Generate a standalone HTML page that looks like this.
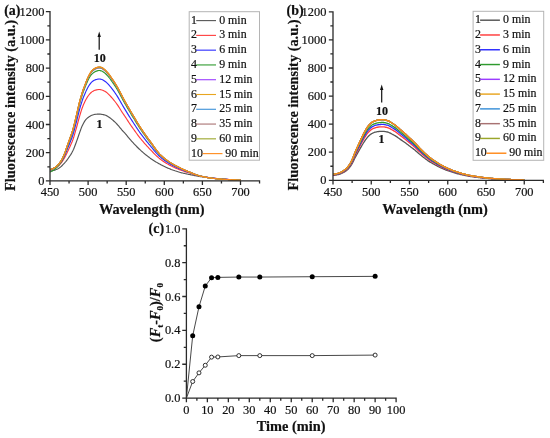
<!DOCTYPE html>
<html><head><meta charset="utf-8"><style>
html,body{margin:0;padding:0;background:#fff;}
body{width:550px;height:438px;overflow:hidden;}
svg{display:block;will-change:transform;}
text{font-family:"Liberation Serif",serif;fill:#111;stroke:#111;stroke-width:0.2px;}
.t{font-size:12.4px;}
.l{font-size:11.9px;}
.b14{font-size:14.35px;font-weight:bold;}
.b13{font-size:14px;font-weight:bold;}
.b12{font-size:12px;font-weight:bold;}
</style></head><body>
<svg width="550" height="438" viewBox="0 0 550 438">
<rect width="550" height="438" fill="#fff"/>
<path d="M50.00,171.01 L50.76,170.93 L51.52,170.82 L52.29,170.68 L53.05,170.52 L53.81,170.34 L54.57,170.13 L55.33,169.88 L56.10,169.59 L56.86,169.27 L57.62,168.90 L58.38,168.50 L59.14,168.06 L59.91,167.53 L60.67,166.91 L61.43,166.23 L62.19,165.49 L62.95,164.72 L63.72,163.92 L64.48,163.11 L65.24,162.25 L66.00,161.33 L66.76,160.35 L67.53,159.33 L68.29,158.27 L69.05,157.17 L69.81,156.05 L70.57,154.88 L71.34,153.63 L72.10,152.29 L72.86,150.82 L73.62,149.17 L74.38,147.30 L75.15,145.30 L75.91,143.22 L76.67,141.13 L77.43,138.99 L78.19,136.75 L78.96,134.52 L79.72,132.38 L80.48,130.20 L81.24,128.10 L82.00,126.22 L82.77,124.64 L83.53,123.18 L84.29,121.85 L85.05,120.68 L85.81,119.71 L86.58,118.92 L87.34,118.19 L88.10,117.53 L88.86,116.93 L89.62,116.40 L90.39,115.95 L91.15,115.57 L91.91,115.25 L92.67,114.97 L93.43,114.73 L94.20,114.54 L94.96,114.40 L95.72,114.30 L96.48,114.21 L97.24,114.13 L98.01,114.08 L98.77,114.07 L99.53,114.09 L100.29,114.15 L101.05,114.24 L101.82,114.35 L102.58,114.46 L103.34,114.62 L104.10,114.82 L104.86,115.06 L105.63,115.33 L106.39,115.63 L107.15,116.00 L107.91,116.45 L108.67,116.96 L109.44,117.50 L110.20,118.08 L110.96,118.67 L111.72,119.26 L112.48,119.88 L113.25,120.53 L114.01,121.22 L114.77,121.94 L115.53,122.69 L116.29,123.45 L117.06,124.24 L117.82,125.07 L118.58,125.95 L119.34,126.87 L120.10,127.80 L120.87,128.73 L121.63,129.64 L122.39,130.51 L123.15,131.32 L123.91,132.11 L124.68,132.91 L125.44,133.77 L126.20,134.68 L126.96,135.62 L127.72,136.57 L128.49,137.52 L129.25,138.44 L130.01,139.33 L130.77,140.19 L131.53,141.04 L132.30,141.88 L133.06,142.72 L133.82,143.54 L134.58,144.36 L135.34,145.16 L136.11,145.95 L136.87,146.73 L137.63,147.49 L138.39,148.24 L139.15,148.97 L139.92,149.68 L140.68,150.38 L141.44,151.07 L142.20,151.75 L142.96,152.41 L143.73,153.07 L144.49,153.71 L145.25,154.35 L146.01,154.97 L146.77,155.57 L147.54,156.17 L148.30,156.75 L149.06,157.31 L149.82,157.87 L150.58,158.41 L151.35,158.94 L152.11,159.46 L152.87,159.97 L153.63,160.47 L154.39,160.96 L155.16,161.44 L155.92,161.92 L156.68,162.38 L157.44,162.83 L158.20,163.27 L158.97,163.70 L159.73,164.12 L160.49,164.53 L161.25,164.93 L162.01,165.32 L162.78,165.71 L163.54,166.09 L164.30,166.46 L165.06,166.83 L165.82,167.18 L166.59,167.53 L167.35,167.87 L168.11,168.19 L168.87,168.51 L169.63,168.82 L170.40,169.12 L171.16,169.42 L171.92,169.70 L172.68,169.99 L173.44,170.26 L174.21,170.53 L174.97,170.80 L175.73,171.05 L176.49,171.30 L177.25,171.54 L178.02,171.78 L178.78,172.00 L179.54,172.22 L180.30,172.43 L181.06,172.64 L181.83,172.83 L182.59,173.02 L183.35,173.20 L184.11,173.38 L184.87,173.55 L185.64,173.72 L186.40,173.89 L187.16,174.05 L187.92,174.21 L188.68,174.37 L189.45,174.53 L190.21,174.68 L190.97,174.84 L191.73,175.00 L192.49,175.15 L193.26,175.31 L194.02,175.46 L194.78,175.61 L195.54,175.75 L196.30,175.90 L197.07,176.04 L197.83,176.17 L198.59,176.31 L199.35,176.43 L200.11,176.56 L200.88,176.67 L201.64,176.79 L202.40,176.90 L203.16,177.02 L203.92,177.12 L204.69,177.23 L205.45,177.33 L206.21,177.43 L206.97,177.53 L207.73,177.63 L208.50,177.72 L209.26,177.81 L210.02,177.89 L210.78,177.98 L211.54,178.06 L212.31,178.14 L213.07,178.22 L213.83,178.30 L214.59,178.38 L215.35,178.46 L216.12,178.53 L216.88,178.61 L217.64,178.68 L218.40,178.75 L219.16,178.82 L219.93,178.88 L220.69,178.95 L221.45,179.01 L222.21,179.07 L222.97,179.13 L223.74,179.19 L224.50,179.24 L225.26,179.30 L226.02,179.35 L226.78,179.40 L227.55,179.45 L228.31,179.49 L229.07,179.54 L229.83,179.59 L230.59,179.63 L231.36,179.68 L232.12,179.72 L232.88,179.76 L233.64,179.80 L234.40,179.84 L235.17,179.88 L235.93,179.92 L236.69,179.95 L237.45,179.98 L238.21,180.01 L238.98,180.04 L239.74,180.07 L240.50,180.10" fill="none" stroke="#555555" stroke-width="1.15"/>
<path d="M50.00,169.66 L50.76,169.55 L51.52,169.38 L52.29,169.17 L53.05,168.92 L53.81,168.65 L54.57,168.34 L55.33,167.97 L56.10,167.53 L56.86,167.03 L57.62,166.48 L58.38,165.88 L59.14,165.22 L59.91,164.46 L60.67,163.59 L61.43,162.63 L62.19,161.59 L62.95,160.44 L63.72,159.20 L64.48,157.89 L65.24,156.49 L66.00,154.97 L66.76,153.38 L67.53,151.80 L68.29,150.21 L69.05,148.60 L69.81,146.96 L70.57,145.29 L71.34,143.57 L72.10,141.76 L72.86,139.78 L73.62,137.55 L74.38,135.08 L75.15,132.44 L75.91,129.72 L76.67,127.01 L77.43,124.23 L78.19,121.34 L78.96,118.49 L79.72,115.80 L80.48,113.24 L81.24,110.81 L82.00,108.53 L82.77,106.45 L83.53,104.58 L84.29,102.91 L85.05,101.32 L85.81,99.80 L86.58,98.42 L87.34,97.16 L88.10,96.02 L88.86,94.98 L89.62,94.04 L90.39,93.22 L91.15,92.47 L91.91,91.87 L92.67,91.38 L93.43,90.95 L94.20,90.58 L94.96,90.29 L95.72,90.07 L96.48,89.89 L97.24,89.73 L98.01,89.60 L98.77,89.54 L99.53,89.55 L100.29,89.64 L101.05,89.78 L101.82,89.95 L102.58,90.19 L103.34,90.52 L104.10,90.91 L104.86,91.33 L105.63,91.81 L106.39,92.33 L107.15,92.92 L107.91,93.58 L108.67,94.30 L109.44,95.08 L110.20,95.90 L110.96,96.75 L111.72,97.60 L112.48,98.47 L113.25,99.37 L114.01,100.29 L114.77,101.25 L115.53,102.25 L116.29,103.27 L117.06,104.33 L117.82,105.44 L118.58,106.60 L119.34,107.79 L120.10,109.01 L120.87,110.24 L121.63,111.46 L122.39,112.66 L123.15,113.80 L123.91,114.91 L124.68,116.02 L125.44,117.15 L126.20,118.30 L126.96,119.48 L127.72,120.65 L128.49,121.82 L129.25,122.98 L130.01,124.11 L130.77,125.21 L131.53,126.30 L132.30,127.39 L133.06,128.47 L133.82,129.54 L134.58,130.61 L135.34,131.67 L136.11,132.73 L136.87,133.78 L137.63,134.81 L138.39,135.83 L139.15,136.82 L139.92,137.79 L140.68,138.74 L141.44,139.67 L142.20,140.59 L142.96,141.49 L143.73,142.38 L144.49,143.26 L145.25,144.13 L146.01,144.98 L146.77,145.82 L147.54,146.65 L148.30,147.47 L149.06,148.28 L149.82,149.08 L150.58,149.87 L151.35,150.67 L152.11,151.46 L152.87,152.25 L153.63,153.04 L154.39,153.81 L155.16,154.57 L155.92,155.32 L156.68,156.05 L157.44,156.75 L158.20,157.43 L158.97,158.09 L159.73,158.71 L160.49,159.29 L161.25,159.86 L162.01,160.41 L162.78,160.95 L163.54,161.47 L164.30,161.98 L165.06,162.47 L165.82,162.95 L166.59,163.42 L167.35,163.87 L168.11,164.31 L168.87,164.74 L169.63,165.15 L170.40,165.56 L171.16,165.95 L171.92,166.33 L172.68,166.71 L173.44,167.07 L174.21,167.43 L174.97,167.77 L175.73,168.11 L176.49,168.44 L177.25,168.76 L178.02,169.08 L178.78,169.38 L179.54,169.68 L180.30,169.98 L181.06,170.26 L181.83,170.54 L182.59,170.81 L183.35,171.08 L184.11,171.34 L184.87,171.59 L185.64,171.84 L186.40,172.08 L187.16,172.32 L187.92,172.56 L188.68,172.80 L189.45,173.03 L190.21,173.26 L190.97,173.49 L191.73,173.72 L192.49,173.95 L193.26,174.19 L194.02,174.41 L194.78,174.64 L195.54,174.86 L196.30,175.07 L197.07,175.28 L197.83,175.48 L198.59,175.66 L199.35,175.84 L200.11,176.01 L200.88,176.17 L201.64,176.32 L202.40,176.47 L203.16,176.61 L203.92,176.75 L204.69,176.88 L205.45,177.01 L206.21,177.13 L206.97,177.25 L207.73,177.37 L208.50,177.48 L209.26,177.59 L210.02,177.69 L210.78,177.79 L211.54,177.89 L212.31,177.99 L213.07,178.08 L213.83,178.18 L214.59,178.27 L215.35,178.35 L216.12,178.44 L216.88,178.52 L217.64,178.60 L218.40,178.68 L219.16,178.75 L219.93,178.82 L220.69,178.88 L221.45,178.95 L222.21,179.01 L222.97,179.07 L223.74,179.12 L224.50,179.18 L225.26,179.23 L226.02,179.28 L226.78,179.33 L227.55,179.38 L228.31,179.42 L229.07,179.47 L229.83,179.52 L230.59,179.56 L231.36,179.61 L232.12,179.65 L232.88,179.69 L233.64,179.73 L234.40,179.77 L235.17,179.81 L235.93,179.85 L236.69,179.88 L237.45,179.92 L238.21,179.95 L238.98,179.98 L239.74,180.01 L240.50,180.04" fill="none" stroke="#ff3b3b" stroke-width="1.15"/>
<path d="M50.00,169.46 L50.76,169.33 L51.52,169.14 L52.29,168.89 L53.05,168.60 L53.81,168.28 L54.57,167.92 L55.33,167.50 L56.10,166.99 L56.86,166.40 L57.62,165.76 L58.38,165.06 L59.14,164.31 L59.91,163.45 L60.67,162.46 L61.43,161.38 L62.19,160.20 L62.95,158.87 L63.72,157.41 L64.48,155.86 L65.24,154.19 L66.00,152.36 L66.76,150.47 L67.53,148.61 L68.29,146.77 L69.05,144.92 L69.81,143.05 L70.57,141.14 L71.34,139.23 L72.10,137.22 L72.86,135.03 L73.62,132.55 L74.38,129.82 L75.15,126.93 L75.91,123.96 L76.67,121.00 L77.43,117.97 L78.19,114.83 L78.96,111.74 L79.72,108.87 L80.48,106.21 L81.24,103.71 L82.00,101.30 L82.77,99.02 L83.53,97.00 L84.29,95.20 L85.05,93.43 L85.81,91.63 L86.58,89.96 L87.34,88.43 L88.10,87.03 L88.86,85.77 L89.62,84.63 L90.39,83.60 L91.15,82.66 L91.91,81.90 L92.67,81.31 L93.43,80.78 L94.20,80.32 L94.96,79.95 L95.72,79.66 L96.48,79.43 L97.24,79.22 L98.01,79.06 L98.77,78.97 L99.53,78.98 L100.29,79.08 L101.05,79.24 L101.82,79.45 L102.58,79.74 L103.34,80.17 L104.10,80.66 L104.86,81.18 L105.63,81.77 L106.39,82.40 L107.15,83.10 L107.91,83.85 L108.67,84.67 L109.44,85.55 L110.20,86.49 L110.96,87.45 L111.72,88.43 L112.48,89.41 L113.25,90.41 L114.01,91.44 L114.77,92.49 L115.53,93.59 L116.29,94.72 L117.06,95.90 L117.82,97.13 L118.58,98.40 L119.34,99.69 L120.10,101.02 L120.87,102.38 L121.63,103.73 L122.39,105.07 L123.15,106.36 L123.91,107.61 L124.68,108.85 L125.44,110.09 L126.20,111.35 L126.96,112.60 L127.72,113.85 L128.49,115.10 L129.25,116.33 L130.01,117.55 L130.77,118.75 L131.53,119.93 L132.30,121.11 L133.06,122.29 L133.82,123.46 L134.58,124.63 L135.34,125.80 L136.11,126.97 L136.87,128.13 L137.63,129.28 L138.39,130.41 L139.15,131.51 L139.92,132.59 L140.68,133.65 L141.44,134.68 L142.20,135.70 L142.96,136.71 L143.73,137.70 L144.49,138.68 L145.25,139.65 L146.01,140.60 L146.77,141.55 L147.54,142.48 L148.30,143.41 L149.06,144.33 L149.82,145.24 L150.58,146.15 L151.35,147.07 L152.11,147.99 L152.87,148.92 L153.63,149.84 L154.39,150.76 L155.16,151.66 L155.92,152.54 L156.68,153.40 L157.44,154.23 L158.20,155.02 L158.97,155.78 L159.73,156.50 L160.49,157.16 L161.25,157.81 L162.01,158.43 L162.78,159.03 L163.54,159.62 L164.30,160.19 L165.06,160.73 L165.82,161.27 L166.59,161.78 L167.35,162.28 L168.11,162.77 L168.87,163.24 L169.63,163.70 L170.40,164.15 L171.16,164.58 L171.92,165.00 L172.68,165.42 L173.44,165.82 L174.21,166.21 L174.97,166.59 L175.73,166.96 L176.49,167.32 L177.25,167.67 L178.02,168.02 L178.78,168.36 L179.54,168.70 L180.30,169.03 L181.06,169.35 L181.83,169.66 L182.59,169.97 L183.35,170.28 L184.11,170.57 L184.87,170.86 L185.64,171.15 L186.40,171.43 L187.16,171.71 L187.92,171.98 L188.68,172.25 L189.45,172.52 L190.21,172.79 L190.97,173.05 L191.73,173.32 L192.49,173.59 L193.26,173.86 L194.02,174.12 L194.78,174.38 L195.54,174.64 L196.30,174.88 L197.07,175.12 L197.83,175.35 L198.59,175.56 L199.35,175.76 L200.11,175.95 L200.88,176.12 L201.64,176.29 L202.40,176.45 L203.16,176.60 L203.92,176.75 L204.69,176.89 L205.45,177.03 L206.21,177.17 L206.97,177.29 L207.73,177.42 L208.50,177.53 L209.26,177.65 L210.02,177.76 L210.78,177.86 L211.54,177.97 L212.31,178.07 L213.07,178.16 L213.83,178.26 L214.59,178.35 L215.35,178.44 L216.12,178.53 L216.88,178.61 L217.64,178.69 L218.40,178.76 L219.16,178.83 L219.93,178.90 L220.69,178.96 L221.45,179.02 L222.21,179.08 L222.97,179.14 L223.74,179.19 L224.50,179.24 L225.26,179.29 L226.02,179.33 L226.78,179.38 L227.55,179.42 L228.31,179.47 L229.07,179.51 L229.83,179.55 L230.59,179.60 L231.36,179.64 L232.12,179.68 L232.88,179.72 L233.64,179.76 L234.40,179.80 L235.17,179.83 L235.93,179.87 L236.69,179.90 L237.45,179.94 L238.21,179.97 L238.98,180.00 L239.74,180.03 L240.50,180.06" fill="none" stroke="#2b2bff" stroke-width="1.15"/>
<path d="M50.00,172.00 L50.76,171.69 L51.52,171.31 L52.29,170.88 L53.05,170.41 L53.81,169.91 L54.57,169.40 L55.33,168.81 L56.10,168.14 L56.86,167.38 L57.62,166.57 L58.38,165.71 L59.14,164.80 L59.91,163.77 L60.67,162.62 L61.43,161.38 L62.19,160.02 L62.95,158.49 L63.72,156.79 L64.48,154.98 L65.24,153.04 L66.00,150.91 L66.76,148.72 L67.53,146.58 L68.29,144.50 L69.05,142.42 L69.81,140.31 L70.57,138.20 L71.34,136.10 L72.10,133.91 L72.86,131.52 L73.62,128.83 L74.38,125.89 L75.15,122.78 L75.91,119.60 L76.67,116.44 L77.43,113.21 L78.19,109.86 L78.96,106.59 L79.72,103.56 L80.48,100.85 L81.24,98.31 L82.00,95.81 L82.77,93.38 L83.53,91.22 L84.29,89.33 L85.05,87.40 L85.81,85.37 L86.58,83.44 L87.34,81.66 L88.10,80.04 L88.86,78.58 L89.62,77.25 L90.39,76.05 L91.15,74.94 L91.91,74.03 L92.67,73.34 L93.43,72.73 L94.20,72.19 L94.96,71.74 L95.72,71.38 L96.48,71.11 L97.24,70.86 L98.01,70.66 L98.77,70.54 L99.53,70.54 L100.29,70.65 L101.05,70.83 L101.82,71.06 L102.58,71.41 L103.34,71.93 L104.10,72.50 L104.86,73.11 L105.63,73.78 L106.39,74.52 L107.15,75.30 L107.91,76.14 L108.67,77.03 L109.44,78.00 L110.20,79.03 L110.96,80.09 L111.72,81.17 L112.48,82.24 L113.25,83.32 L114.01,84.43 L114.77,85.56 L115.53,86.73 L116.29,87.95 L117.06,89.22 L117.82,90.54 L118.58,91.90 L119.34,93.28 L120.10,94.69 L120.87,96.14 L121.63,97.60 L122.39,99.05 L123.15,100.46 L123.91,101.83 L124.68,103.17 L125.44,104.50 L126.20,105.82 L126.96,107.13 L127.72,108.44 L128.49,109.74 L129.25,111.03 L130.01,112.31 L130.77,113.57 L131.53,114.83 L132.30,116.08 L133.06,117.33 L133.82,118.57 L134.58,119.82 L135.34,121.08 L136.11,122.33 L136.87,123.58 L137.63,124.82 L138.39,126.04 L139.15,127.24 L139.92,128.41 L140.68,129.55 L141.44,130.66 L142.20,131.77 L142.96,132.85 L143.73,133.92 L144.49,134.98 L145.25,136.03 L146.01,137.06 L146.77,138.09 L147.54,139.11 L148.30,140.13 L149.06,141.14 L149.82,142.14 L150.58,143.15 L151.35,144.17 L152.11,145.21 L152.87,146.25 L153.63,147.29 L154.39,148.32 L155.16,149.34 L155.92,150.34 L156.68,151.31 L157.44,152.25 L158.20,153.14 L158.97,153.99 L159.73,154.78 L160.49,155.52 L161.25,156.22 L162.01,156.90 L162.78,157.56 L163.54,158.19 L164.30,158.81 L165.06,159.40 L165.82,159.97 L166.59,160.53 L167.35,161.07 L168.11,161.59 L168.87,162.10 L169.63,162.59 L170.40,163.07 L171.16,163.54 L171.92,163.99 L172.68,164.43 L173.44,164.86 L174.21,165.28 L174.97,165.68 L175.73,166.08 L176.49,166.47 L177.25,166.85 L178.02,167.22 L178.78,167.59 L179.54,167.95 L180.30,168.31 L181.06,168.66 L181.83,169.01 L182.59,169.35 L183.35,169.69 L184.11,170.01 L184.87,170.34 L185.64,170.65 L186.40,170.97 L187.16,171.28 L187.92,171.58 L188.68,171.88 L189.45,172.18 L190.21,172.47 L190.97,172.77 L191.73,173.06 L192.49,173.36 L193.26,173.66 L194.02,173.96 L194.78,174.25 L195.54,174.53 L196.30,174.80 L197.07,175.07 L197.83,175.32 L198.59,175.55 L199.35,175.77 L200.11,175.97 L200.88,176.16 L201.64,176.33 L202.40,176.51 L203.16,176.67 L203.92,176.83 L204.69,176.98 L205.45,177.12 L206.21,177.26 L206.97,177.39 L207.73,177.52 L208.50,177.64 L209.26,177.76 L210.02,177.87 L210.78,177.98 L211.54,178.09 L212.31,178.19 L213.07,178.29 L213.83,178.39 L214.59,178.48 L215.35,178.57 L216.12,178.65 L216.88,178.74 L217.64,178.81 L218.40,178.89 L219.16,178.95 L219.93,179.02 L220.69,179.08 L221.45,179.13 L222.21,179.18 L222.97,179.23 L223.74,179.28 L224.50,179.33 L225.26,179.37 L226.02,179.41 L226.78,179.46 L227.55,179.50 L228.31,179.54 L229.07,179.58 L229.83,179.61 L230.59,179.65 L231.36,179.69 L232.12,179.73 L232.88,179.77 L233.64,179.80 L234.40,179.84 L235.17,179.87 L235.93,179.90 L236.69,179.94 L237.45,179.97 L238.21,180.00 L238.98,180.03 L239.74,180.06 L240.50,180.09" fill="none" stroke="#2e9a2e" stroke-width="1.15"/>
<path d="M50.00,169.49 L50.76,169.35 L51.52,169.12 L52.29,168.84 L53.05,168.50 L53.81,168.12 L54.57,167.72 L55.33,167.23 L56.10,166.64 L56.86,165.97 L57.62,165.22 L58.38,164.42 L59.14,163.56 L59.91,162.58 L60.67,161.48 L61.43,160.27 L62.19,158.94 L62.95,157.41 L63.72,155.71 L64.48,153.88 L65.24,151.91 L66.00,149.74 L66.76,147.51 L67.53,145.34 L68.29,143.23 L69.05,141.12 L69.81,138.98 L70.57,136.84 L71.34,134.71 L72.10,132.50 L72.86,130.08 L73.62,127.36 L74.38,124.37 L75.15,121.23 L75.91,118.00 L76.67,114.81 L77.43,111.53 L78.19,108.14 L78.96,104.83 L79.72,101.78 L80.48,99.07 L81.24,96.54 L82.00,94.03 L82.77,91.56 L83.53,89.38 L84.29,87.47 L85.05,85.51 L85.81,83.41 L86.58,81.40 L87.34,79.56 L88.10,77.88 L88.86,76.36 L89.62,74.97 L90.39,73.72 L91.15,72.56 L91.91,71.61 L92.67,70.90 L93.43,70.26 L94.20,69.70 L94.96,69.23 L95.72,68.86 L96.48,68.57 L97.24,68.31 L98.01,68.10 L98.77,67.98 L99.53,67.98 L100.29,68.09 L101.05,68.28 L101.82,68.52 L102.58,68.89 L103.34,69.44 L104.10,70.03 L104.86,70.67 L105.63,71.38 L106.39,72.14 L107.15,72.96 L107.91,73.82 L108.67,74.74 L109.44,75.74 L110.20,76.79 L110.96,77.89 L111.72,78.99 L112.48,80.09 L113.25,81.20 L114.01,82.33 L114.77,83.49 L115.53,84.68 L116.29,85.92 L117.06,87.22 L117.82,88.57 L118.58,89.96 L119.34,91.35 L120.10,92.79 L120.87,94.27 L121.63,95.76 L122.39,97.25 L123.15,98.70 L123.91,100.10 L124.68,101.48 L125.44,102.83 L126.20,104.17 L126.96,105.50 L127.72,106.82 L128.49,108.13 L129.25,109.44 L130.01,110.73 L130.77,112.02 L131.53,113.30 L132.30,114.57 L133.06,115.84 L133.82,117.10 L134.58,118.37 L135.34,119.65 L136.11,120.93 L136.87,122.21 L137.63,123.48 L138.39,124.72 L139.15,125.95 L139.92,127.14 L140.68,128.31 L141.44,129.45 L142.20,130.58 L142.96,131.69 L143.73,132.78 L144.49,133.86 L145.25,134.94 L146.01,136.00 L146.77,137.05 L147.54,138.10 L148.30,139.14 L149.06,140.17 L149.82,141.21 L150.58,142.24 L151.35,143.30 L152.11,144.37 L152.87,145.45 L153.63,146.53 L154.39,147.60 L155.16,148.65 L155.92,149.69 L156.68,150.69 L157.44,151.66 L158.20,152.58 L158.97,153.46 L159.73,154.28 L160.49,155.03 L161.25,155.76 L162.01,156.45 L162.78,157.13 L163.54,157.78 L164.30,158.40 L165.06,159.01 L165.82,159.60 L166.59,160.16 L167.35,160.71 L168.11,161.25 L168.87,161.76 L169.63,162.27 L170.40,162.76 L171.16,163.24 L171.92,163.70 L172.68,164.15 L173.44,164.58 L174.21,165.01 L174.97,165.42 L175.73,165.83 L176.49,166.22 L177.25,166.61 L178.02,166.99 L178.78,167.37 L179.54,167.74 L180.30,168.11 L181.06,168.47 L181.83,168.82 L182.59,169.17 L183.35,169.52 L184.11,169.86 L184.87,170.19 L185.64,170.52 L186.40,170.84 L187.16,171.16 L187.92,171.47 L188.68,171.78 L189.45,172.08 L190.21,172.39 L190.97,172.69 L191.73,173.00 L192.49,173.31 L193.26,173.61 L194.02,173.92 L194.78,174.22 L195.54,174.51 L196.30,174.79 L197.07,175.06 L197.83,175.32 L198.59,175.56 L199.35,175.79 L200.11,175.99 L200.88,176.18 L201.64,176.36 L202.40,176.54 L203.16,176.70 L203.92,176.86 L204.69,177.02 L205.45,177.16 L206.21,177.30 L206.97,177.44 L207.73,177.57 L208.50,177.69 L209.26,177.81 L210.02,177.92 L210.78,178.03 L211.54,178.13 L212.31,178.24 L213.07,178.34 L213.83,178.43 L214.59,178.53 L215.35,178.62 L216.12,178.70 L216.88,178.78 L217.64,178.86 L218.40,178.93 L219.16,179.00 L219.93,179.06 L220.69,179.12 L221.45,179.17 L222.21,179.22 L222.97,179.27 L223.74,179.32 L224.50,179.36 L225.26,179.40 L226.02,179.44 L226.78,179.48 L227.55,179.52 L228.31,179.56 L229.07,179.60 L229.83,179.64 L230.59,179.67 L231.36,179.71 L232.12,179.75 L232.88,179.78 L233.64,179.82 L234.40,179.85 L235.17,179.89 L235.93,179.92 L236.69,179.95 L237.45,179.98 L238.21,180.01 L238.98,180.04 L239.74,180.07 L240.50,180.10" fill="none" stroke="#9b3cff" stroke-width="1.15"/>
<path d="M50.00,169.49 L50.76,169.35 L51.52,169.13 L52.29,168.84 L53.05,168.50 L53.81,168.12 L54.57,167.72 L55.33,167.23 L56.10,166.64 L56.86,165.96 L57.62,165.22 L58.38,164.42 L59.14,163.56 L59.91,162.57 L60.67,161.47 L61.43,160.25 L62.19,158.93 L62.95,157.40 L63.72,155.69 L64.48,153.86 L65.24,151.88 L66.00,149.71 L66.76,147.47 L67.53,145.30 L68.29,143.18 L69.05,141.07 L69.81,138.93 L70.57,136.78 L71.34,134.65 L72.10,132.43 L72.86,130.01 L73.62,127.29 L74.38,124.30 L75.15,121.15 L75.91,117.93 L76.67,114.73 L77.43,111.45 L78.19,108.06 L78.96,104.74 L79.72,101.69 L80.48,98.98 L81.24,96.45 L82.00,93.94 L82.77,91.46 L83.53,89.29 L84.29,87.37 L85.05,85.41 L85.81,83.31 L86.58,81.29 L87.34,79.44 L88.10,77.76 L88.86,76.24 L89.62,74.85 L90.39,73.60 L91.15,72.43 L91.91,71.48 L92.67,70.77 L93.43,70.12 L94.20,69.56 L94.96,69.09 L95.72,68.72 L96.48,68.44 L97.24,68.17 L98.01,67.96 L98.77,67.84 L99.53,67.83 L100.29,67.95 L101.05,68.14 L101.82,68.38 L102.58,68.75 L103.34,69.30 L104.10,69.90 L104.86,70.54 L105.63,71.25 L106.39,72.01 L107.15,72.83 L107.91,73.69 L108.67,74.61 L109.44,75.61 L110.20,76.67 L110.96,77.77 L111.72,78.87 L112.48,79.97 L113.25,81.08 L114.01,82.21 L114.77,83.37 L115.53,84.57 L116.29,85.81 L117.06,87.11 L117.82,88.46 L118.58,89.85 L119.34,91.25 L120.10,92.69 L120.87,94.17 L121.63,95.66 L122.39,97.15 L123.15,98.60 L123.91,100.01 L124.68,101.38 L125.44,102.74 L126.20,104.08 L126.96,105.41 L127.72,106.73 L128.49,108.04 L129.25,109.35 L130.01,110.65 L130.77,111.93 L131.53,113.21 L132.30,114.49 L133.06,115.75 L133.82,117.02 L134.58,118.29 L135.34,119.57 L136.11,120.86 L136.87,122.13 L137.63,123.40 L138.39,124.65 L139.15,125.88 L139.92,127.07 L140.68,128.24 L141.44,129.38 L142.20,130.51 L142.96,131.62 L143.73,132.72 L144.49,133.80 L145.25,134.87 L146.01,135.94 L146.77,136.99 L147.54,138.04 L148.30,139.08 L149.06,140.12 L149.82,141.16 L150.58,142.19 L151.35,143.25 L152.11,144.32 L152.87,145.40 L153.63,146.48 L154.39,147.56 L155.16,148.61 L155.92,149.65 L156.68,150.66 L157.44,151.63 L158.20,152.55 L158.97,153.43 L159.73,154.25 L160.49,155.01 L161.25,155.73 L162.01,156.43 L162.78,157.10 L163.54,157.75 L164.30,158.38 L165.06,158.99 L165.82,159.57 L166.59,160.14 L167.35,160.69 L168.11,161.23 L168.87,161.75 L169.63,162.25 L170.40,162.74 L171.16,163.22 L171.92,163.68 L172.68,164.13 L173.44,164.57 L174.21,164.99 L174.97,165.41 L175.73,165.81 L176.49,166.21 L177.25,166.60 L178.02,166.98 L178.78,167.35 L179.54,167.73 L180.30,168.09 L181.06,168.46 L181.83,168.81 L182.59,169.16 L183.35,169.51 L184.11,169.85 L184.87,170.18 L185.64,170.51 L186.40,170.83 L187.16,171.15 L187.92,171.46 L188.68,171.77 L189.45,172.08 L190.21,172.38 L190.97,172.69 L191.73,172.99 L192.49,173.30 L193.26,173.61 L194.02,173.92 L194.78,174.22 L195.54,174.51 L196.30,174.79 L197.07,175.06 L197.83,175.32 L198.59,175.56 L199.35,175.79 L200.11,175.99 L200.88,176.18 L201.64,176.36 L202.40,176.54 L203.16,176.70 L203.92,176.86 L204.69,177.02 L205.45,177.16 L206.21,177.31 L206.97,177.44 L207.73,177.57 L208.50,177.69 L209.26,177.81 L210.02,177.92 L210.78,178.03 L211.54,178.14 L212.31,178.24 L213.07,178.34 L213.83,178.44 L214.59,178.53 L215.35,178.62 L216.12,178.70 L216.88,178.79 L217.64,178.86 L218.40,178.93 L219.16,179.00 L219.93,179.06 L220.69,179.12 L221.45,179.17 L222.21,179.22 L222.97,179.27 L223.74,179.32 L224.50,179.36 L225.26,179.41 L226.02,179.45 L226.78,179.49 L227.55,179.52 L228.31,179.56 L229.07,179.60 L229.83,179.64 L230.59,179.68 L231.36,179.71 L232.12,179.75 L232.88,179.79 L233.64,179.82 L234.40,179.85 L235.17,179.89 L235.93,179.92 L236.69,179.95 L237.45,179.98 L238.21,180.01 L238.98,180.04 L239.74,180.07 L240.50,180.10" fill="none" stroke="#e8a520" stroke-width="1.15"/>
<path d="M50.00,169.50 L50.76,169.35 L51.52,169.13 L52.29,168.84 L53.05,168.50 L53.81,168.12 L54.57,167.72 L55.33,167.23 L56.10,166.64 L56.86,165.96 L57.62,165.21 L58.38,164.41 L59.14,163.55 L59.91,162.56 L60.67,161.46 L61.43,160.24 L62.19,158.91 L62.95,157.38 L63.72,155.67 L64.48,153.83 L65.24,151.86 L66.00,149.68 L66.76,147.43 L67.53,145.26 L68.29,143.14 L69.05,141.02 L69.81,138.88 L70.57,136.72 L71.34,134.59 L72.10,132.37 L72.86,129.95 L73.62,127.22 L74.38,124.23 L75.15,121.08 L75.91,117.85 L76.67,114.65 L77.43,111.37 L78.19,107.97 L78.96,104.66 L79.72,101.60 L80.48,98.89 L81.24,96.36 L82.00,93.84 L82.77,91.37 L83.53,89.19 L84.29,87.28 L85.05,85.31 L85.81,83.21 L86.58,81.18 L87.34,79.33 L88.10,77.64 L88.86,76.12 L89.62,74.72 L90.39,73.47 L91.15,72.30 L91.91,71.35 L92.67,70.63 L93.43,69.99 L94.20,69.43 L94.96,68.95 L95.72,68.58 L96.48,68.30 L97.24,68.03 L98.01,67.82 L98.77,67.69 L99.53,67.69 L100.29,67.81 L101.05,68.00 L101.82,68.24 L102.58,68.62 L103.34,69.16 L104.10,69.76 L104.86,70.40 L105.63,71.11 L106.39,71.88 L107.15,72.70 L107.91,73.56 L108.67,74.48 L109.44,75.49 L110.20,76.55 L110.96,77.64 L111.72,78.75 L112.48,79.85 L113.25,80.96 L114.01,82.09 L114.77,83.26 L115.53,84.45 L116.29,85.70 L117.06,87.00 L117.82,88.36 L118.58,89.74 L119.34,91.14 L120.10,92.58 L120.87,94.06 L121.63,95.56 L122.39,97.05 L123.15,98.50 L123.91,99.91 L124.68,101.29 L125.44,102.65 L126.20,103.99 L126.96,105.32 L127.72,106.64 L128.49,107.95 L129.25,109.26 L130.01,110.56 L130.77,111.85 L131.53,113.13 L132.30,114.40 L133.06,115.67 L133.82,116.94 L134.58,118.21 L135.34,119.50 L136.11,120.78 L136.87,122.06 L137.63,123.33 L138.39,124.58 L139.15,125.81 L139.92,127.00 L140.68,128.17 L141.44,129.32 L142.20,130.45 L142.96,131.56 L143.73,132.66 L144.49,133.74 L145.25,134.81 L146.01,135.88 L146.77,136.93 L147.54,137.98 L148.30,139.03 L149.06,140.07 L149.82,141.10 L150.58,142.14 L151.35,143.20 L152.11,144.28 L152.87,145.36 L153.63,146.44 L154.39,147.52 L155.16,148.58 L155.92,149.61 L156.68,150.62 L157.44,151.59 L158.20,152.52 L158.97,153.40 L159.73,154.22 L160.49,154.98 L161.25,155.70 L162.01,156.40 L162.78,157.08 L163.54,157.73 L164.30,158.36 L165.06,158.97 L165.82,159.55 L166.59,160.12 L167.35,160.67 L168.11,161.21 L168.87,161.73 L169.63,162.23 L170.40,162.73 L171.16,163.20 L171.92,163.67 L172.68,164.12 L173.44,164.55 L174.21,164.98 L174.97,165.39 L175.73,165.80 L176.49,166.19 L177.25,166.58 L178.02,166.97 L178.78,167.34 L179.54,167.71 L180.30,168.08 L181.06,168.45 L181.83,168.80 L182.59,169.15 L183.35,169.50 L184.11,169.84 L184.87,170.17 L185.64,170.50 L186.40,170.82 L187.16,171.14 L187.92,171.46 L188.68,171.77 L189.45,172.07 L190.21,172.38 L190.97,172.68 L191.73,172.99 L192.49,173.30 L193.26,173.61 L194.02,173.91 L194.78,174.21 L195.54,174.51 L196.30,174.79 L197.07,175.06 L197.83,175.32 L198.59,175.57 L199.35,175.79 L200.11,175.99 L200.88,176.18 L201.64,176.37 L202.40,176.54 L203.16,176.71 L203.92,176.87 L204.69,177.02 L205.45,177.17 L206.21,177.31 L206.97,177.44 L207.73,177.57 L208.50,177.69 L209.26,177.81 L210.02,177.92 L210.78,178.03 L211.54,178.14 L212.31,178.24 L213.07,178.34 L213.83,178.44 L214.59,178.53 L215.35,178.62 L216.12,178.71 L216.88,178.79 L217.64,178.86 L218.40,178.94 L219.16,179.00 L219.93,179.06 L220.69,179.12 L221.45,179.18 L222.21,179.23 L222.97,179.28 L223.74,179.32 L224.50,179.37 L225.26,179.41 L226.02,179.45 L226.78,179.49 L227.55,179.53 L228.31,179.56 L229.07,179.60 L229.83,179.64 L230.59,179.68 L231.36,179.71 L232.12,179.75 L232.88,179.79 L233.64,179.82 L234.40,179.86 L235.17,179.89 L235.93,179.92 L236.69,179.95 L237.45,179.98 L238.21,180.01 L238.98,180.04 L239.74,180.07 L240.50,180.10" fill="none" stroke="#3a90d8" stroke-width="1.15"/>
<path d="M50.00,169.50 L50.76,169.36 L51.52,169.13 L52.29,168.84 L53.05,168.50 L53.81,168.12 L54.57,167.71 L55.33,167.22 L56.10,166.63 L56.86,165.94 L57.62,165.19 L58.38,164.38 L59.14,163.51 L59.91,162.53 L60.67,161.41 L61.43,160.19 L62.19,158.85 L62.95,157.31 L63.72,155.58 L64.48,153.73 L65.24,151.74 L66.00,149.55 L66.76,147.28 L67.53,145.09 L68.29,142.96 L69.05,140.82 L69.81,138.67 L70.57,136.50 L71.34,134.36 L72.10,132.13 L72.86,129.70 L73.62,126.96 L74.38,123.96 L75.15,120.79 L75.91,117.55 L76.67,114.33 L77.43,111.04 L78.19,107.63 L78.96,104.31 L79.72,101.24 L80.48,98.53 L81.24,96.00 L82.00,93.48 L82.77,91.00 L83.53,88.81 L84.29,86.89 L85.05,84.91 L85.81,82.79 L86.58,80.75 L87.34,78.88 L88.10,77.18 L88.86,75.64 L89.62,74.23 L90.39,72.97 L91.15,71.78 L91.91,70.83 L92.67,70.10 L93.43,69.45 L94.20,68.88 L94.96,68.41 L95.72,68.03 L96.48,67.74 L97.24,67.47 L98.01,67.26 L98.77,67.13 L99.53,67.13 L100.29,67.24 L101.05,67.44 L101.82,67.68 L102.58,68.06 L103.34,68.61 L104.10,69.22 L104.86,69.87 L105.63,70.58 L106.39,71.36 L107.15,72.18 L107.91,73.05 L108.67,73.98 L109.44,74.98 L110.20,76.05 L110.96,77.16 L111.72,78.27 L112.48,79.38 L113.25,80.49 L114.01,81.63 L114.77,82.80 L115.53,84.00 L116.29,85.25 L117.06,86.56 L117.82,87.92 L118.58,89.31 L119.34,90.72 L120.10,92.16 L120.87,93.65 L121.63,95.15 L122.39,96.65 L123.15,98.11 L123.91,99.53 L124.68,100.91 L125.44,102.28 L126.20,103.62 L126.96,104.95 L127.72,106.28 L128.49,107.59 L129.25,108.91 L130.01,110.21 L130.77,111.50 L131.53,112.79 L132.30,114.07 L133.06,115.34 L133.82,116.61 L134.58,117.89 L135.34,119.18 L136.11,120.47 L136.87,121.75 L137.63,123.03 L138.39,124.29 L139.15,125.52 L139.92,126.72 L140.68,127.90 L141.44,129.05 L142.20,130.18 L142.96,131.30 L143.73,132.40 L144.49,133.49 L145.25,134.57 L146.01,135.64 L146.77,136.70 L147.54,137.76 L148.30,138.81 L149.06,139.85 L149.82,140.90 L150.58,141.94 L151.35,143.01 L152.11,144.09 L152.87,145.18 L153.63,146.27 L154.39,147.35 L155.16,148.42 L155.92,149.47 L156.68,150.48 L157.44,151.46 L158.20,152.40 L158.97,153.28 L159.73,154.11 L160.49,154.87 L161.25,155.60 L162.01,156.31 L162.78,156.98 L163.54,157.64 L164.30,158.27 L165.06,158.88 L165.82,159.47 L166.59,160.04 L167.35,160.59 L168.11,161.13 L168.87,161.65 L169.63,162.16 L170.40,162.66 L171.16,163.14 L171.92,163.60 L172.68,164.05 L173.44,164.49 L174.21,164.92 L174.97,165.34 L175.73,165.74 L176.49,166.14 L177.25,166.53 L178.02,166.91 L178.78,167.29 L179.54,167.67 L180.30,168.04 L181.06,168.40 L181.83,168.76 L182.59,169.12 L183.35,169.46 L184.11,169.80 L184.87,170.14 L185.64,170.47 L186.40,170.80 L187.16,171.12 L187.92,171.43 L188.68,171.75 L189.45,172.05 L190.21,172.36 L190.97,172.67 L191.73,172.98 L192.49,173.29 L193.26,173.60 L194.02,173.91 L194.78,174.21 L195.54,174.50 L196.30,174.79 L197.07,175.06 L197.83,175.32 L198.59,175.57 L199.35,175.79 L200.11,176.00 L200.88,176.19 L201.64,176.37 L202.40,176.55 L203.16,176.72 L203.92,176.88 L204.69,177.03 L205.45,177.18 L206.21,177.32 L206.97,177.45 L207.73,177.58 L208.50,177.70 L209.26,177.82 L210.02,177.94 L210.78,178.04 L211.54,178.15 L212.31,178.25 L213.07,178.35 L213.83,178.45 L214.59,178.54 L215.35,178.63 L216.12,178.72 L216.88,178.80 L217.64,178.88 L218.40,178.95 L219.16,179.01 L219.93,179.07 L220.69,179.13 L221.45,179.18 L222.21,179.24 L222.97,179.28 L223.74,179.33 L224.50,179.37 L225.26,179.41 L226.02,179.46 L226.78,179.49 L227.55,179.53 L228.31,179.57 L229.07,179.61 L229.83,179.65 L230.59,179.68 L231.36,179.72 L232.12,179.76 L232.88,179.79 L233.64,179.83 L234.40,179.86 L235.17,179.89 L235.93,179.92 L236.69,179.96 L237.45,179.99 L238.21,180.02 L238.98,180.05 L239.74,180.07 L240.50,180.10" fill="none" stroke="#a87272" stroke-width="1.15"/>
<path d="M50.00,169.51 L50.76,169.36 L51.52,169.13 L52.29,168.84 L53.05,168.50 L53.81,168.12 L54.57,167.71 L55.33,167.22 L56.10,166.63 L56.86,165.94 L57.62,165.19 L58.38,164.38 L59.14,163.51 L59.91,162.52 L60.67,161.41 L61.43,160.18 L62.19,158.84 L62.95,157.30 L63.72,155.57 L64.48,153.72 L65.24,151.73 L66.00,149.53 L66.76,147.27 L67.53,145.07 L68.29,142.93 L69.05,140.80 L69.81,138.64 L70.57,136.48 L71.34,134.33 L72.10,132.10 L72.86,129.66 L73.62,126.92 L74.38,123.92 L75.15,120.75 L75.91,117.51 L76.67,114.29 L77.43,111.00 L78.19,107.59 L78.96,104.26 L79.72,101.20 L80.48,98.48 L81.24,95.95 L82.00,93.43 L82.77,90.95 L83.53,88.76 L84.29,86.84 L85.05,84.86 L85.81,82.74 L86.58,80.70 L87.34,78.83 L88.10,77.12 L88.86,75.58 L89.62,74.17 L90.39,72.90 L91.15,71.72 L91.91,70.76 L92.67,70.04 L93.43,69.38 L94.20,68.82 L94.96,68.34 L95.72,67.96 L96.48,67.67 L97.24,67.40 L98.01,67.19 L98.77,67.06 L99.53,67.06 L100.29,67.17 L101.05,67.37 L101.82,67.61 L102.58,67.99 L103.34,68.54 L104.10,69.15 L104.86,69.80 L105.63,70.52 L106.39,71.29 L107.15,72.12 L107.91,72.99 L108.67,73.91 L109.44,74.92 L110.20,75.99 L110.96,77.09 L111.72,78.21 L112.48,79.32 L113.25,80.43 L114.01,81.57 L114.77,82.74 L115.53,83.94 L116.29,85.19 L117.06,86.51 L117.82,87.86 L118.58,89.26 L119.34,90.66 L120.10,92.11 L120.87,93.60 L121.63,95.10 L122.39,96.60 L123.15,98.06 L123.91,99.48 L124.68,100.87 L125.44,102.23 L126.20,103.58 L126.96,104.91 L127.72,106.23 L128.49,107.55 L129.25,108.86 L130.01,110.17 L130.77,111.46 L131.53,112.74 L132.30,114.02 L133.06,115.30 L133.82,116.57 L134.58,117.85 L135.34,119.14 L136.11,120.43 L136.87,121.72 L137.63,122.99 L138.39,124.25 L139.15,125.48 L139.92,126.69 L140.68,127.86 L141.44,129.01 L142.20,130.15 L142.96,131.27 L143.73,132.37 L144.49,133.46 L145.25,134.54 L146.01,135.61 L146.77,136.67 L147.54,137.73 L148.30,138.78 L149.06,139.82 L149.82,140.87 L150.58,141.92 L151.35,142.99 L152.11,144.07 L152.87,145.16 L153.63,146.25 L154.39,147.33 L155.16,148.40 L155.92,149.45 L156.68,150.47 L157.44,151.45 L158.20,152.38 L158.97,153.27 L159.73,154.09 L160.49,154.86 L161.25,155.59 L162.01,156.29 L162.78,156.97 L163.54,157.63 L164.30,158.26 L165.06,158.87 L165.82,159.46 L166.59,160.03 L167.35,160.59 L168.11,161.12 L168.87,161.64 L169.63,162.15 L170.40,162.65 L171.16,163.13 L171.92,163.59 L172.68,164.05 L173.44,164.49 L174.21,164.91 L174.97,165.33 L175.73,165.74 L176.49,166.13 L177.25,166.52 L178.02,166.91 L178.78,167.29 L179.54,167.66 L180.30,168.03 L181.06,168.40 L181.83,168.76 L182.59,169.11 L183.35,169.46 L184.11,169.80 L184.87,170.14 L185.64,170.47 L186.40,170.79 L187.16,171.11 L187.92,171.43 L188.68,171.74 L189.45,172.05 L190.21,172.36 L190.97,172.66 L191.73,172.97 L192.49,173.29 L193.26,173.60 L194.02,173.91 L194.78,174.21 L195.54,174.50 L196.30,174.79 L197.07,175.06 L197.83,175.32 L198.59,175.57 L199.35,175.79 L200.11,176.00 L200.88,176.19 L201.64,176.37 L202.40,176.55 L203.16,176.72 L203.92,176.88 L204.69,177.03 L205.45,177.18 L206.21,177.32 L206.97,177.45 L207.73,177.58 L208.50,177.71 L209.26,177.82 L210.02,177.94 L210.78,178.05 L211.54,178.15 L212.31,178.26 L213.07,178.36 L213.83,178.45 L214.59,178.55 L215.35,178.63 L216.12,178.72 L216.88,178.80 L217.64,178.88 L218.40,178.95 L219.16,179.01 L219.93,179.08 L220.69,179.13 L221.45,179.19 L222.21,179.24 L222.97,179.28 L223.74,179.33 L224.50,179.37 L225.26,179.42 L226.02,179.46 L226.78,179.50 L227.55,179.53 L228.31,179.57 L229.07,179.61 L229.83,179.65 L230.59,179.68 L231.36,179.72 L232.12,179.76 L232.88,179.79 L233.64,179.83 L234.40,179.86 L235.17,179.89 L235.93,179.93 L236.69,179.96 L237.45,179.99 L238.21,180.02 L238.98,180.05 L239.74,180.07 L240.50,180.10" fill="none" stroke="#9aa52a" stroke-width="1.15"/>
<path d="M50.00,169.51 L50.76,169.36 L51.52,169.13 L52.29,168.84 L53.05,168.50 L53.81,168.12 L54.57,167.71 L55.33,167.22 L56.10,166.62 L56.86,165.94 L57.62,165.19 L58.38,164.37 L59.14,163.51 L59.91,162.52 L60.67,161.40 L61.43,160.18 L62.19,158.84 L62.95,157.29 L63.72,155.56 L64.48,153.71 L65.24,151.71 L66.00,149.51 L66.76,147.25 L67.53,145.05 L68.29,142.91 L69.05,140.78 L69.81,138.62 L70.57,136.45 L71.34,134.30 L72.10,132.07 L72.86,129.63 L73.62,126.89 L74.38,123.89 L75.15,120.71 L75.91,117.47 L76.67,114.25 L77.43,110.96 L78.19,107.55 L78.96,104.22 L79.72,101.15 L80.48,98.44 L81.24,95.91 L82.00,93.39 L82.77,90.90 L83.53,88.71 L84.29,86.79 L85.05,84.81 L85.81,82.69 L86.58,80.64 L87.34,78.77 L88.10,77.06 L88.86,75.52 L89.62,74.11 L90.39,72.84 L91.15,71.66 L91.91,70.69 L92.67,69.97 L93.43,69.32 L94.20,68.75 L94.96,68.27 L95.72,67.89 L96.48,67.60 L97.24,67.33 L98.01,67.12 L98.77,66.99 L99.53,66.99 L100.29,67.10 L101.05,67.30 L101.82,67.54 L102.58,67.92 L103.34,68.47 L104.10,69.08 L104.86,69.73 L105.63,70.45 L106.39,71.23 L107.15,72.05 L107.91,72.92 L108.67,73.85 L109.44,74.86 L110.20,75.93 L110.96,77.03 L111.72,78.15 L112.48,79.26 L113.25,80.38 L114.01,81.51 L114.77,82.68 L115.53,83.89 L116.29,85.14 L117.06,86.45 L117.82,87.81 L118.58,89.20 L119.34,90.61 L120.10,92.06 L120.87,93.55 L121.63,95.05 L122.39,96.55 L123.15,98.02 L123.91,99.43 L124.68,100.82 L125.44,102.18 L126.20,103.53 L126.96,104.86 L127.72,106.19 L128.49,107.50 L129.25,108.82 L130.01,110.12 L130.77,111.42 L131.53,112.70 L132.30,113.98 L133.06,115.26 L133.82,116.53 L134.58,117.81 L135.34,119.10 L136.11,120.39 L136.87,121.68 L137.63,122.95 L138.39,124.21 L139.15,125.45 L139.92,126.65 L140.68,127.83 L141.44,128.98 L142.20,130.11 L142.96,131.23 L143.73,132.34 L144.49,133.43 L145.25,134.51 L146.01,135.58 L146.77,136.64 L147.54,137.70 L148.30,138.75 L149.06,139.80 L149.82,140.84 L150.58,141.89 L151.35,142.96 L152.11,144.05 L152.87,145.14 L153.63,146.23 L154.39,147.31 L155.16,148.38 L155.92,149.43 L156.68,150.45 L157.44,151.43 L158.20,152.37 L158.97,153.25 L159.73,154.08 L160.49,154.84 L161.25,155.58 L162.01,156.28 L162.78,156.96 L163.54,157.62 L164.30,158.25 L165.06,158.86 L165.82,159.45 L166.59,160.02 L167.35,160.58 L168.11,161.11 L168.87,161.64 L169.63,162.14 L170.40,162.64 L171.16,163.12 L171.92,163.59 L172.68,164.04 L173.44,164.48 L174.21,164.90 L174.97,165.32 L175.73,165.73 L176.49,166.13 L177.25,166.52 L178.02,166.90 L178.78,167.28 L179.54,167.65 L180.30,168.03 L181.06,168.39 L181.83,168.75 L182.59,169.11 L183.35,169.45 L184.11,169.79 L184.87,170.13 L185.64,170.46 L186.40,170.79 L187.16,171.11 L187.92,171.43 L188.68,171.74 L189.45,172.05 L190.21,172.36 L190.97,172.66 L191.73,172.97 L192.49,173.29 L193.26,173.60 L194.02,173.90 L194.78,174.21 L195.54,174.50 L196.30,174.79 L197.07,175.06 L197.83,175.32 L198.59,175.57 L199.35,175.80 L200.11,176.00 L200.88,176.19 L201.64,176.37 L202.40,176.55 L203.16,176.72 L203.92,176.88 L204.69,177.03 L205.45,177.18 L206.21,177.32 L206.97,177.45 L207.73,177.58 L208.50,177.71 L209.26,177.83 L210.02,177.94 L210.78,178.05 L211.54,178.15 L212.31,178.26 L213.07,178.36 L213.83,178.45 L214.59,178.55 L215.35,178.64 L216.12,178.72 L216.88,178.80 L217.64,178.88 L218.40,178.95 L219.16,179.02 L219.93,179.08 L220.69,179.13 L221.45,179.19 L222.21,179.24 L222.97,179.29 L223.74,179.33 L224.50,179.38 L225.26,179.42 L226.02,179.46 L226.78,179.50 L227.55,179.53 L228.31,179.57 L229.07,179.61 L229.83,179.65 L230.59,179.68 L231.36,179.72 L232.12,179.76 L232.88,179.79 L233.64,179.83 L234.40,179.86 L235.17,179.89 L235.93,179.93 L236.69,179.96 L237.45,179.99 L238.21,180.02 L238.98,180.05 L239.74,180.08 L240.50,180.10" fill="none" stroke="#ff8a1a" stroke-width="1.15"/>
<path d="M50.00,11.70 L50.00,180.90 L259.55,180.90 M46.50,180.90 L50.00,180.90 M48.00,166.80 L50.00,166.80 M46.50,152.70 L50.00,152.70 M48.00,138.60 L50.00,138.60 M46.50,124.50 L50.00,124.50 M48.00,110.40 L50.00,110.40 M46.50,96.30 L50.00,96.30 M48.00,82.20 L50.00,82.20 M46.50,68.10 L50.00,68.10 M48.00,54.00 L50.00,54.00 M46.50,39.90 L50.00,39.90 M48.00,25.80 L50.00,25.80 M46.50,11.70 L50.00,11.70 M50.00,180.90 L50.00,184.40 M69.05,180.90 L69.05,182.90 M88.10,180.90 L88.10,184.40 M107.15,180.90 L107.15,182.90 M126.20,180.90 L126.20,184.40 M145.25,180.90 L145.25,182.90 M164.30,180.90 L164.30,184.40 M183.35,180.90 L183.35,182.90 M202.40,180.90 L202.40,184.40 M221.45,180.90 L221.45,182.90 M240.50,180.90 L240.50,184.40 M259.55,180.90 L259.55,182.90" fill="none" stroke="#2a2a2a" stroke-width="1.3" stroke-linecap="square"/>
<text x="44.40" y="184.90" text-anchor="end" class="t">0</text>
<text x="44.40" y="156.70" text-anchor="end" class="t">200</text>
<text x="44.40" y="128.50" text-anchor="end" class="t">400</text>
<text x="44.40" y="100.30" text-anchor="end" class="t">600</text>
<text x="44.40" y="72.10" text-anchor="end" class="t">800</text>
<text x="44.40" y="43.90" text-anchor="end" class="t">1000</text>
<text x="44.40" y="15.70" text-anchor="end" class="t">1200</text>
<text x="50.00" y="196.20" text-anchor="middle" class="t">450</text>
<text x="88.10" y="196.20" text-anchor="middle" class="t">500</text>
<text x="126.20" y="196.20" text-anchor="middle" class="t">550</text>
<text x="164.30" y="196.20" text-anchor="middle" class="t">600</text>
<text x="202.40" y="196.20" text-anchor="middle" class="t">650</text>
<text x="240.50" y="196.20" text-anchor="middle" class="t">700</text>
<text x="151.70" y="213.60" text-anchor="middle" class="b14">Wavelength (nm)</text>
<text transform="translate(15.30,105.40) rotate(-90)" text-anchor="middle" class="b14">Fluorescence intensity (a.u.)</text>
<text x="4.20" y="15.30" class="b13">(a)</text>
<rect x="189.20" y="11.70" width="70.30" height="148.50" fill="#fff" stroke="#b4b4b4" stroke-width="1"/>
<text x="191.00" y="23.60" class="l">1</text>
<path d="M196.20,20.60 L216.00,20.60" stroke="#555555" stroke-width="1.1"/>
<text x="219.20" y="23.60" class="l">0 min</text>
<text x="191.00" y="38.38" class="l">2</text>
<path d="M196.20,35.38 L216.00,35.38" stroke="#ff3b3b" stroke-width="1.1"/>
<text x="219.20" y="38.38" class="l">3 min</text>
<text x="191.00" y="53.16" class="l">3</text>
<path d="M196.20,50.16 L216.00,50.16" stroke="#2b2bff" stroke-width="1.1"/>
<text x="219.20" y="53.16" class="l">6 min</text>
<text x="191.00" y="67.94" class="l">4</text>
<path d="M196.20,64.94 L216.00,64.94" stroke="#2e9a2e" stroke-width="1.1"/>
<text x="219.20" y="67.94" class="l">9 min</text>
<text x="191.00" y="82.72" class="l">5</text>
<path d="M196.20,79.72 L216.00,79.72" stroke="#9b3cff" stroke-width="1.1"/>
<text x="219.20" y="82.72" class="l">12 min</text>
<text x="191.00" y="97.50" class="l">6</text>
<path d="M196.20,94.50 L216.00,94.50" stroke="#e8a520" stroke-width="1.1"/>
<text x="219.20" y="97.50" class="l">15 min</text>
<text x="191.00" y="112.28" class="l">7</text>
<path d="M196.20,109.28 L216.00,109.28" stroke="#3a90d8" stroke-width="1.1"/>
<text x="219.20" y="112.28" class="l">25 min</text>
<text x="191.00" y="127.06" class="l">8</text>
<path d="M196.20,124.06 L216.00,124.06" stroke="#a87272" stroke-width="1.1"/>
<text x="219.20" y="127.06" class="l">35 min</text>
<text x="191.00" y="141.84" class="l">9</text>
<path d="M196.20,138.84 L216.00,138.84" stroke="#9aa52a" stroke-width="1.1"/>
<text x="219.20" y="141.84" class="l">60 min</text>
<text x="191.00" y="156.62" class="l">10</text>
<path d="M202.50,153.62 L222.50,153.62" stroke="#ff8a1a" stroke-width="1.1"/>
<text x="225.30" y="156.62" class="l">90 min</text>
<path d="M99.20,49.70 L99.20,35.40" stroke="#111" stroke-width="1.2"/>
<path d="M99.20,31.40 L97.50,36.90 L100.90,36.90 Z" fill="#111"/>
<text x="99.80" y="62.20" text-anchor="middle" class="b12">10</text>
<text x="99.50" y="127.70" text-anchor="middle" class="b12">1</text>
<path d="M333.00,175.40 L333.76,175.33 L334.53,175.24 L335.30,175.13 L336.06,175.00 L336.82,174.85 L337.59,174.70 L338.36,174.51 L339.12,174.29 L339.88,174.05 L340.65,173.78 L341.42,173.49 L342.18,173.15 L342.94,172.78 L343.71,172.36 L344.48,171.92 L345.24,171.43 L346.00,170.89 L346.77,170.30 L347.54,169.65 L348.30,168.93 L349.06,168.12 L349.83,167.18 L350.60,166.15 L351.36,165.01 L352.12,163.71 L352.89,162.21 L353.65,160.62 L354.42,159.02 L355.19,157.52 L355.95,156.09 L356.71,154.69 L357.48,153.31 L358.25,151.94 L359.01,150.60 L359.77,149.26 L360.54,147.94 L361.31,146.62 L362.07,145.30 L362.83,144.00 L363.60,142.75 L364.37,141.57 L365.13,140.45 L365.89,139.35 L366.66,138.31 L367.43,137.36 L368.19,136.54 L368.95,135.79 L369.72,135.09 L370.49,134.45 L371.25,133.90 L372.01,133.46 L372.78,133.09 L373.55,132.75 L374.31,132.46 L375.07,132.22 L375.84,132.02 L376.61,131.86 L377.37,131.72 L378.13,131.59 L378.90,131.49 L379.67,131.42 L380.43,131.37 L381.19,131.34 L381.96,131.31 L382.73,131.30 L383.49,131.34 L384.25,131.43 L385.02,131.56 L385.79,131.69 L386.55,131.83 L387.31,132.00 L388.08,132.21 L388.85,132.48 L389.61,132.82 L390.38,133.20 L391.14,133.60 L391.90,134.01 L392.67,134.40 L393.44,134.80 L394.20,135.22 L394.97,135.65 L395.73,136.11 L396.50,136.59 L397.26,137.12 L398.02,137.68 L398.79,138.25 L399.56,138.81 L400.32,139.35 L401.09,139.88 L401.85,140.40 L402.62,140.92 L403.38,141.45 L404.14,141.98 L404.91,142.52 L405.68,143.08 L406.44,143.66 L407.20,144.24 L407.97,144.83 L408.74,145.42 L409.50,146.00 L410.26,146.58 L411.03,147.16 L411.80,147.72 L412.56,148.30 L413.32,148.87 L414.09,149.47 L414.86,150.08 L415.62,150.72 L416.38,151.39 L417.15,152.07 L417.92,152.76 L418.68,153.43 L419.44,154.09 L420.21,154.72 L420.98,155.34 L421.74,155.96 L422.50,156.57 L423.27,157.17 L424.03,157.76 L424.80,158.35 L425.56,158.93 L426.33,159.50 L427.10,160.06 L427.86,160.60 L428.62,161.11 L429.39,161.61 L430.15,162.09 L430.92,162.56 L431.69,163.02 L432.45,163.46 L433.22,163.89 L433.98,164.30 L434.75,164.71 L435.51,165.11 L436.27,165.52 L437.04,165.93 L437.81,166.34 L438.57,166.75 L439.34,167.13 L440.10,167.50 L440.87,167.85 L441.63,168.19 L442.39,168.52 L443.16,168.85 L443.93,169.18 L444.69,169.49 L445.45,169.80 L446.22,170.10 L446.99,170.39 L447.75,170.68 L448.51,170.95 L449.28,171.22 L450.05,171.48 L450.81,171.73 L451.57,171.98 L452.34,172.22 L453.11,172.45 L453.87,172.68 L454.63,172.91 L455.40,173.13 L456.17,173.34 L456.93,173.55 L457.69,173.75 L458.46,173.94 L459.23,174.14 L459.99,174.32 L460.75,174.50 L461.52,174.68 L462.28,174.86 L463.05,175.04 L463.81,175.21 L464.58,175.37 L465.35,175.53 L466.11,175.69 L466.88,175.84 L467.64,175.98 L468.40,176.12 L469.17,176.26 L469.94,176.38 L470.70,176.50 L471.47,176.61 L472.23,176.72 L473.00,176.83 L473.76,176.93 L474.52,177.03 L475.29,177.12 L476.06,177.22 L476.82,177.31 L477.59,177.39 L478.35,177.48 L479.12,177.57 L479.88,177.65 L480.64,177.74 L481.41,177.82 L482.18,177.91 L482.94,177.99 L483.71,178.07 L484.47,178.15 L485.24,178.23 L486.00,178.30 L486.76,178.38 L487.53,178.45 L488.30,178.51 L489.06,178.57 L489.82,178.63 L490.59,178.69 L491.36,178.75 L492.12,178.80 L492.88,178.85 L493.65,178.90 L494.41,178.95 L495.18,179.00 L495.94,179.04 L496.71,179.09 L497.48,179.13 L498.24,179.17 L499.00,179.21 L499.77,179.25 L500.53,179.29 L501.30,179.32 L502.06,179.35 L502.83,179.38 L503.60,179.42 L504.36,179.45 L505.12,179.48 L505.89,179.50 L506.65,179.53 L507.42,179.56 L508.19,179.58 L508.95,179.61 L509.72,179.63 L510.48,179.65 L511.25,179.67 L512.01,179.69 L512.77,179.71 L513.54,179.73 L514.31,179.75 L515.07,179.76 L515.84,179.78 L516.60,179.79 L517.37,179.81 L518.13,179.82 L518.89,179.84 L519.66,179.85 L520.42,179.86 L521.19,179.87 L521.96,179.88 L522.72,179.89 L523.49,179.90 L524.25,179.91" fill="none" stroke="#555555" stroke-width="1.3"/>
<path d="M333.00,174.95 L333.76,174.88 L334.53,174.78 L335.30,174.65 L336.06,174.51 L336.82,174.35 L337.59,174.19 L338.36,173.98 L339.12,173.74 L339.88,173.47 L340.65,173.18 L341.42,172.86 L342.18,172.50 L342.94,172.09 L343.71,171.64 L344.48,171.15 L345.24,170.62 L346.00,170.03 L346.77,169.39 L347.54,168.67 L348.30,167.89 L349.06,167.00 L349.83,165.98 L350.60,164.85 L351.36,163.61 L352.12,162.19 L352.89,160.56 L353.65,158.82 L354.42,157.07 L355.19,155.43 L355.95,153.87 L356.71,152.34 L357.48,150.83 L358.25,149.34 L359.01,147.87 L359.77,146.42 L360.54,144.97 L361.31,143.53 L362.07,142.09 L362.83,140.67 L363.60,139.31 L364.37,138.02 L365.13,136.79 L365.89,135.59 L366.66,134.46 L367.43,133.42 L368.19,132.52 L368.95,131.70 L369.72,130.94 L370.49,130.25 L371.25,129.65 L372.01,129.16 L372.78,128.76 L373.55,128.39 L374.31,128.08 L375.07,127.81 L375.84,127.59 L376.61,127.42 L377.37,127.26 L378.13,127.13 L378.90,127.02 L379.67,126.94 L380.43,126.89 L381.19,126.85 L381.96,126.82 L382.73,126.81 L383.49,126.85 L384.25,126.95 L385.02,127.09 L385.79,127.24 L386.55,127.39 L387.31,127.57 L388.08,127.80 L388.85,128.09 L389.61,128.46 L390.38,128.88 L391.14,129.32 L391.90,129.76 L392.67,130.19 L393.44,130.63 L394.20,131.08 L394.97,131.56 L395.73,132.06 L396.50,132.59 L397.26,133.16 L398.02,133.77 L398.79,134.39 L399.56,135.01 L400.32,135.60 L401.09,136.18 L401.85,136.74 L402.62,137.31 L403.38,137.88 L404.14,138.46 L404.91,139.06 L405.68,139.67 L406.44,140.30 L407.20,140.93 L407.97,141.57 L408.74,142.22 L409.50,142.86 L410.26,143.49 L411.03,144.12 L411.80,144.74 L412.56,145.36 L413.32,145.99 L414.09,146.64 L414.86,147.31 L415.62,148.01 L416.38,148.74 L417.15,149.49 L417.92,150.23 L418.68,150.97 L419.44,151.68 L420.21,152.37 L420.98,153.06 L421.74,153.73 L422.50,154.39 L423.27,155.05 L424.03,155.69 L424.80,156.33 L425.56,156.97 L426.33,157.59 L427.10,158.20 L427.86,158.79 L428.62,159.35 L429.39,159.90 L430.15,160.42 L430.92,160.94 L431.69,161.44 L432.45,161.92 L433.22,162.38 L433.98,162.84 L434.75,163.28 L435.51,163.72 L436.27,164.16 L437.04,164.61 L437.81,165.06 L438.57,165.50 L439.34,165.93 L440.10,166.32 L440.87,166.70 L441.63,167.08 L442.39,167.45 L443.16,167.80 L443.93,168.16 L444.69,168.50 L445.45,168.84 L446.22,169.16 L446.99,169.48 L447.75,169.79 L448.51,170.10 L449.28,170.39 L450.05,170.67 L450.81,170.95 L451.57,171.22 L452.34,171.48 L453.11,171.74 L453.87,171.99 L454.63,172.23 L455.40,172.47 L456.17,172.70 L456.93,172.93 L457.69,173.15 L458.46,173.36 L459.23,173.57 L459.99,173.77 L460.75,173.97 L461.52,174.17 L462.28,174.36 L463.05,174.55 L463.81,174.74 L464.58,174.92 L465.35,175.10 L466.11,175.27 L466.88,175.43 L467.64,175.59 L468.40,175.74 L469.17,175.88 L469.94,176.02 L470.70,176.15 L471.47,176.27 L472.23,176.39 L473.00,176.51 L473.76,176.62 L474.52,176.73 L475.29,176.83 L476.06,176.93 L476.82,177.03 L477.59,177.13 L478.35,177.22 L479.12,177.32 L479.88,177.41 L480.64,177.50 L481.41,177.60 L482.18,177.69 L482.94,177.78 L483.71,177.87 L484.47,177.95 L485.24,178.04 L486.00,178.12 L486.76,178.20 L487.53,178.28 L488.30,178.35 L489.06,178.42 L489.82,178.48 L490.59,178.54 L491.36,178.60 L492.12,178.66 L492.88,178.72 L493.65,178.77 L494.41,178.83 L495.18,178.88 L495.94,178.93 L496.71,178.98 L497.48,179.02 L498.24,179.07 L499.00,179.11 L499.77,179.15 L500.53,179.19 L501.30,179.23 L502.06,179.27 L502.83,179.30 L503.60,179.34 L504.36,179.37 L505.12,179.40 L505.89,179.43 L506.65,179.46 L507.42,179.49 L508.19,179.52 L508.95,179.55 L509.72,179.57 L510.48,179.59 L511.25,179.62 L512.01,179.64 L512.77,179.66 L513.54,179.68 L514.31,179.70 L515.07,179.71 L515.84,179.73 L516.60,179.75 L517.37,179.76 L518.13,179.78 L518.89,179.79 L519.66,179.81 L520.42,179.82 L521.19,179.83 L521.96,179.85 L522.72,179.86 L523.49,179.86 L524.25,179.87" fill="none" stroke="#ff3b3b" stroke-width="1.3"/>
<path d="M333.00,174.71 L333.76,174.64 L334.53,174.53 L335.30,174.40 L336.06,174.25 L336.82,174.09 L337.59,173.91 L338.36,173.70 L339.12,173.45 L339.88,173.17 L340.65,172.86 L341.42,172.53 L342.18,172.15 L342.94,171.72 L343.71,171.25 L344.48,170.74 L345.24,170.19 L346.00,169.57 L346.77,168.90 L347.54,168.15 L348.30,167.34 L349.06,166.41 L349.83,165.34 L350.60,164.16 L351.36,162.87 L352.12,161.38 L352.89,159.68 L353.65,157.86 L354.42,156.04 L355.19,154.32 L355.95,152.69 L356.71,151.09 L357.48,149.52 L358.25,147.96 L359.01,146.42 L359.77,144.90 L360.54,143.40 L361.31,141.89 L362.07,140.38 L362.83,138.91 L363.60,137.48 L364.37,136.13 L365.13,134.85 L365.89,133.60 L366.66,132.41 L367.43,131.33 L368.19,130.39 L368.95,129.54 L369.72,128.74 L370.49,128.01 L371.25,127.39 L372.01,126.88 L372.78,126.46 L373.55,126.08 L374.31,125.75 L375.07,125.47 L375.84,125.24 L376.61,125.06 L377.37,124.90 L378.13,124.75 L378.90,124.64 L379.67,124.56 L380.43,124.50 L381.19,124.46 L381.96,124.43 L382.73,124.42 L383.49,124.46 L384.25,124.57 L385.02,124.72 L385.79,124.87 L386.55,125.03 L387.31,125.22 L388.08,125.45 L388.85,125.76 L389.61,126.15 L390.38,126.59 L391.14,127.05 L391.90,127.51 L392.67,127.95 L393.44,128.41 L394.20,128.89 L394.97,129.38 L395.73,129.90 L396.50,130.46 L397.26,131.06 L398.02,131.70 L398.79,132.35 L399.56,132.99 L400.32,133.61 L401.09,134.21 L401.85,134.80 L402.62,135.39 L403.38,135.99 L404.14,136.60 L404.91,137.22 L405.68,137.86 L406.44,138.51 L407.20,139.18 L407.97,139.85 L408.74,140.52 L409.50,141.19 L410.26,141.85 L411.03,142.50 L411.80,143.15 L412.56,143.80 L413.32,144.46 L414.09,145.14 L414.86,145.84 L415.62,146.57 L416.38,147.33 L417.15,148.11 L417.92,148.89 L418.68,149.66 L419.44,150.40 L420.21,151.13 L420.98,151.84 L421.74,152.54 L422.50,153.24 L423.27,153.92 L424.03,154.60 L424.80,155.26 L425.56,155.93 L426.33,156.58 L427.10,157.22 L427.86,157.83 L428.62,158.42 L429.39,158.99 L430.15,159.54 L430.92,160.07 L431.69,160.59 L432.45,161.10 L433.22,161.58 L433.98,162.06 L434.75,162.52 L435.51,162.98 L436.27,163.44 L437.04,163.91 L437.81,164.38 L438.57,164.84 L439.34,165.28 L440.10,165.70 L440.87,166.10 L441.63,166.49 L442.39,166.87 L443.16,167.25 L443.93,167.61 L444.69,167.97 L445.45,168.32 L446.22,168.67 L446.99,169.00 L447.75,169.32 L448.51,169.64 L449.28,169.95 L450.05,170.24 L450.81,170.53 L451.57,170.81 L452.34,171.09 L453.11,171.35 L453.87,171.61 L454.63,171.87 L455.40,172.12 L456.17,172.36 L456.93,172.60 L457.69,172.83 L458.46,173.05 L459.23,173.27 L459.99,173.48 L460.75,173.69 L461.52,173.90 L462.28,174.10 L463.05,174.30 L463.81,174.49 L464.58,174.68 L465.35,174.86 L466.11,175.04 L466.88,175.21 L467.64,175.38 L468.40,175.54 L469.17,175.69 L469.94,175.83 L470.70,175.96 L471.47,176.09 L472.23,176.22 L473.00,176.34 L473.76,176.46 L474.52,176.57 L475.29,176.68 L476.06,176.78 L476.82,176.89 L477.59,176.99 L478.35,177.09 L479.12,177.19 L479.88,177.28 L480.64,177.38 L481.41,177.48 L482.18,177.57 L482.94,177.67 L483.71,177.76 L484.47,177.85 L485.24,177.94 L486.00,178.02 L486.76,178.11 L487.53,178.18 L488.30,178.26 L489.06,178.33 L489.82,178.40 L490.59,178.46 L491.36,178.53 L492.12,178.59 L492.88,178.65 L493.65,178.71 L494.41,178.76 L495.18,178.82 L495.94,178.87 L496.71,178.92 L497.48,178.97 L498.24,179.01 L499.00,179.06 L499.77,179.10 L500.53,179.14 L501.30,179.18 L502.06,179.22 L502.83,179.26 L503.60,179.29 L504.36,179.33 L505.12,179.36 L505.89,179.39 L506.65,179.42 L507.42,179.45 L508.19,179.48 L508.95,179.51 L509.72,179.54 L510.48,179.56 L511.25,179.59 L512.01,179.61 L512.77,179.63 L513.54,179.65 L514.31,179.67 L515.07,179.69 L515.84,179.71 L516.60,179.72 L517.37,179.74 L518.13,179.76 L518.89,179.77 L519.66,179.79 L520.42,179.80 L521.19,179.81 L521.96,179.82 L522.72,179.84 L523.49,179.84 L524.25,179.85" fill="none" stroke="#2b2bff" stroke-width="1.3"/>
<path d="M333.00,174.52 L333.76,174.44 L334.53,174.33 L335.30,174.19 L336.06,174.04 L336.82,173.87 L337.59,173.69 L338.36,173.47 L339.12,173.21 L339.88,172.92 L340.65,172.60 L341.42,172.26 L342.18,171.86 L342.94,171.42 L343.71,170.93 L344.48,170.40 L345.24,169.83 L346.00,169.20 L346.77,168.50 L347.54,167.73 L348.30,166.88 L349.06,165.92 L349.83,164.82 L350.60,163.59 L351.36,162.25 L352.12,160.71 L352.89,158.95 L353.65,157.07 L354.42,155.18 L355.19,153.40 L355.95,151.72 L356.71,150.07 L357.48,148.43 L358.25,146.82 L359.01,145.23 L359.77,143.66 L360.54,142.10 L361.31,140.54 L362.07,138.98 L362.83,137.45 L363.60,135.98 L364.37,134.58 L365.13,133.25 L365.89,131.96 L366.66,130.72 L367.43,129.61 L368.19,128.64 L368.95,127.75 L369.72,126.92 L370.49,126.18 L371.25,125.53 L372.01,125.00 L372.78,124.56 L373.55,124.17 L374.31,123.83 L375.07,123.54 L375.84,123.30 L376.61,123.12 L377.37,122.95 L378.13,122.80 L378.90,122.68 L379.67,122.59 L380.43,122.54 L381.19,122.50 L381.96,122.47 L382.73,122.46 L383.49,122.50 L384.25,122.61 L385.02,122.76 L385.79,122.92 L386.55,123.08 L387.31,123.28 L388.08,123.52 L388.85,123.84 L389.61,124.25 L390.38,124.70 L391.14,125.18 L391.90,125.65 L392.67,126.11 L393.44,126.59 L394.20,127.08 L394.97,127.59 L395.73,128.13 L396.50,128.71 L397.26,129.33 L398.02,129.99 L398.79,130.66 L399.56,131.32 L400.32,131.96 L401.09,132.59 L401.85,133.20 L402.62,133.81 L403.38,134.43 L404.14,135.06 L404.91,135.70 L405.68,136.36 L406.44,137.04 L407.20,137.73 L407.97,138.42 L408.74,139.12 L409.50,139.81 L410.26,140.50 L411.03,141.17 L411.80,141.84 L412.56,142.52 L413.32,143.20 L414.09,143.90 L414.86,144.63 L415.62,145.38 L416.38,146.17 L417.15,146.98 L417.92,147.79 L418.68,148.58 L419.44,149.35 L420.21,150.10 L420.98,150.84 L421.74,151.57 L422.50,152.29 L423.27,152.99 L424.03,153.69 L424.80,154.38 L425.56,155.07 L426.33,155.75 L427.10,156.41 L427.86,157.04 L428.62,157.65 L429.39,158.24 L430.15,158.81 L430.92,159.36 L431.69,159.90 L432.45,160.42 L433.22,160.93 L433.98,161.41 L434.75,161.89 L435.51,162.37 L436.27,162.85 L437.04,163.34 L437.81,163.82 L438.57,164.30 L439.34,164.76 L440.10,165.19 L440.87,165.60 L441.63,166.00 L442.39,166.40 L443.16,166.79 L443.93,167.17 L444.69,167.54 L445.45,167.90 L446.22,168.26 L446.99,168.60 L447.75,168.94 L448.51,169.27 L449.28,169.58 L450.05,169.89 L450.81,170.19 L451.57,170.48 L452.34,170.76 L453.11,171.04 L453.87,171.31 L454.63,171.57 L455.40,171.83 L456.17,172.08 L456.93,172.33 L457.69,172.57 L458.46,172.80 L459.23,173.02 L459.99,173.24 L460.75,173.46 L461.52,173.67 L462.28,173.88 L463.05,174.09 L463.81,174.29 L464.58,174.48 L465.35,174.67 L466.11,174.86 L466.88,175.03 L467.64,175.21 L468.40,175.37 L469.17,175.53 L469.94,175.67 L470.70,175.81 L471.47,175.95 L472.23,176.08 L473.00,176.20 L473.76,176.32 L474.52,176.44 L475.29,176.55 L476.06,176.66 L476.82,176.77 L477.59,176.87 L478.35,176.97 L479.12,177.08 L479.88,177.18 L480.64,177.28 L481.41,177.38 L482.18,177.48 L482.94,177.57 L483.71,177.67 L484.47,177.76 L485.24,177.85 L486.00,177.94 L486.76,178.03 L487.53,178.11 L488.30,178.19 L489.06,178.26 L489.82,178.33 L490.59,178.40 L491.36,178.47 L492.12,178.53 L492.88,178.59 L493.65,178.65 L494.41,178.71 L495.18,178.76 L495.94,178.82 L496.71,178.87 L497.48,178.92 L498.24,178.97 L499.00,179.02 L499.77,179.06 L500.53,179.10 L501.30,179.14 L502.06,179.18 L502.83,179.22 L503.60,179.26 L504.36,179.29 L505.12,179.33 L505.89,179.36 L506.65,179.39 L507.42,179.43 L508.19,179.46 L508.95,179.48 L509.72,179.51 L510.48,179.54 L511.25,179.56 L512.01,179.58 L512.77,179.61 L513.54,179.63 L514.31,179.65 L515.07,179.67 L515.84,179.68 L516.60,179.70 L517.37,179.72 L518.13,179.74 L518.89,179.75 L519.66,179.77 L520.42,179.78 L521.19,179.80 L521.96,179.81 L522.72,179.82 L523.49,179.83 L524.25,179.84" fill="none" stroke="#2e9a2e" stroke-width="1.3"/>
<path d="M333.00,174.24 L333.76,174.16 L334.53,174.05 L335.30,173.91 L336.06,173.74 L336.82,173.57 L337.59,173.37 L338.36,173.14 L339.12,172.87 L339.88,172.57 L340.65,172.24 L341.42,171.88 L342.18,171.46 L342.94,171.00 L343.71,170.49 L344.48,169.93 L345.24,169.33 L346.00,168.67 L346.77,167.94 L347.54,167.13 L348.30,166.24 L349.06,165.24 L349.83,164.08 L350.60,162.80 L351.36,161.40 L352.12,159.79 L352.89,157.94 L353.65,155.97 L354.42,154.00 L355.19,152.13 L355.95,150.37 L356.71,148.64 L357.48,146.93 L358.25,145.24 L359.01,143.57 L359.77,141.92 L360.54,140.29 L361.31,138.65 L362.07,137.02 L362.83,135.42 L363.60,133.88 L364.37,132.42 L365.13,131.03 L365.89,129.67 L366.66,128.38 L367.43,127.21 L368.19,126.19 L368.95,125.26 L369.72,124.40 L370.49,123.61 L371.25,122.93 L372.01,122.38 L372.78,121.92 L373.55,121.51 L374.31,121.15 L375.07,120.85 L375.84,120.61 L376.61,120.41 L377.37,120.23 L378.13,120.08 L378.90,119.95 L379.67,119.86 L380.43,119.81 L381.19,119.76 L381.96,119.73 L382.73,119.72 L383.49,119.76 L384.25,119.88 L385.02,120.04 L385.79,120.20 L386.55,120.37 L387.31,120.58 L388.08,120.84 L388.85,121.17 L389.61,121.59 L390.38,122.07 L391.14,122.57 L391.90,123.06 L392.67,123.55 L393.44,124.04 L394.20,124.56 L394.97,125.10 L395.73,125.66 L396.50,126.26 L397.26,126.92 L398.02,127.61 L398.79,128.31 L399.56,129.01 L400.32,129.68 L401.09,130.33 L401.85,130.97 L402.62,131.61 L403.38,132.26 L404.14,132.92 L404.91,133.59 L405.68,134.28 L406.44,134.99 L407.20,135.71 L407.97,136.44 L408.74,137.17 L409.50,137.90 L410.26,138.61 L411.03,139.32 L411.80,140.02 L412.56,140.73 L413.32,141.45 L414.09,142.18 L414.86,142.94 L415.62,143.73 L416.38,144.56 L417.15,145.40 L417.92,146.25 L418.68,147.08 L419.44,147.89 L420.21,148.67 L420.98,149.45 L421.74,150.21 L422.50,150.96 L423.27,151.70 L424.03,152.43 L424.80,153.16 L425.56,153.88 L426.33,154.59 L427.10,155.27 L427.86,155.94 L428.62,156.57 L429.39,157.19 L430.15,157.79 L430.92,158.37 L431.69,158.94 L432.45,159.48 L433.22,160.01 L433.98,160.52 L434.75,161.02 L435.51,161.52 L436.27,162.02 L437.04,162.53 L437.81,163.04 L438.57,163.54 L439.34,164.02 L440.10,164.47 L440.87,164.90 L441.63,165.33 L442.39,165.74 L443.16,166.15 L443.93,166.55 L444.69,166.94 L445.45,167.32 L446.22,167.69 L446.99,168.05 L447.75,168.40 L448.51,168.74 L449.28,169.07 L450.05,169.40 L450.81,169.71 L451.57,170.01 L452.34,170.31 L453.11,170.60 L453.87,170.88 L454.63,171.16 L455.40,171.43 L456.17,171.69 L456.93,171.95 L457.69,172.20 L458.46,172.44 L459.23,172.68 L459.99,172.91 L460.75,173.13 L461.52,173.36 L462.28,173.58 L463.05,173.79 L463.81,174.00 L464.58,174.21 L465.35,174.41 L466.11,174.60 L466.88,174.79 L467.64,174.96 L468.40,175.14 L469.17,175.30 L469.94,175.45 L470.70,175.60 L471.47,175.74 L472.23,175.88 L473.00,176.01 L473.76,176.13 L474.52,176.25 L475.29,176.37 L476.06,176.49 L476.82,176.60 L477.59,176.71 L478.35,176.82 L479.12,176.92 L479.88,177.03 L480.64,177.13 L481.41,177.24 L482.18,177.34 L482.94,177.44 L483.71,177.54 L484.47,177.64 L485.24,177.74 L486.00,177.83 L486.76,177.92 L487.53,178.01 L488.30,178.09 L489.06,178.17 L489.82,178.24 L490.59,178.31 L491.36,178.38 L492.12,178.44 L492.88,178.51 L493.65,178.57 L494.41,178.63 L495.18,178.69 L495.94,178.75 L496.71,178.80 L497.48,178.86 L498.24,178.91 L499.00,178.96 L499.77,179.00 L500.53,179.05 L501.30,179.09 L502.06,179.13 L502.83,179.17 L503.60,179.21 L504.36,179.24 L505.12,179.28 L505.89,179.32 L506.65,179.35 L507.42,179.38 L508.19,179.42 L508.95,179.45 L509.72,179.47 L510.48,179.50 L511.25,179.53 L512.01,179.55 L512.77,179.57 L513.54,179.59 L514.31,179.62 L515.07,179.64 L515.84,179.66 L516.60,179.67 L517.37,179.69 L518.13,179.71 L518.89,179.73 L519.66,179.74 L520.42,179.76 L521.19,179.77 L521.96,179.78 L522.72,179.80 L523.49,179.81 L524.25,179.82" fill="none" stroke="#9b3cff" stroke-width="1.3"/>
<path d="M333.00,174.24 L333.76,174.16 L334.53,174.05 L335.30,173.91 L336.06,173.74 L336.82,173.57 L337.59,173.37 L338.36,173.14 L339.12,172.87 L339.88,172.57 L340.65,172.24 L341.42,171.88 L342.18,171.46 L342.94,171.00 L343.71,170.49 L344.48,169.93 L345.24,169.33 L346.00,168.67 L346.77,167.94 L347.54,167.13 L348.30,166.24 L349.06,165.24 L349.83,164.08 L350.60,162.80 L351.36,161.40 L352.12,159.79 L352.89,157.94 L353.65,155.97 L354.42,154.00 L355.19,152.13 L355.95,150.37 L356.71,148.64 L357.48,146.93 L358.25,145.24 L359.01,143.57 L359.77,141.92 L360.54,140.29 L361.31,138.65 L362.07,137.02 L362.83,135.42 L363.60,133.88 L364.37,132.42 L365.13,131.03 L365.89,129.67 L366.66,128.38 L367.43,127.21 L368.19,126.19 L368.95,125.26 L369.72,124.40 L370.49,123.61 L371.25,122.93 L372.01,122.38 L372.78,121.92 L373.55,121.51 L374.31,121.15 L375.07,120.85 L375.84,120.61 L376.61,120.41 L377.37,120.23 L378.13,120.08 L378.90,119.95 L379.67,119.86 L380.43,119.81 L381.19,119.76 L381.96,119.73 L382.73,119.72 L383.49,119.76 L384.25,119.88 L385.02,120.04 L385.79,120.20 L386.55,120.37 L387.31,120.58 L388.08,120.84 L388.85,121.17 L389.61,121.59 L390.38,122.07 L391.14,122.57 L391.90,123.06 L392.67,123.55 L393.44,124.04 L394.20,124.56 L394.97,125.10 L395.73,125.66 L396.50,126.26 L397.26,126.92 L398.02,127.61 L398.79,128.31 L399.56,129.01 L400.32,129.68 L401.09,130.33 L401.85,130.97 L402.62,131.61 L403.38,132.26 L404.14,132.92 L404.91,133.59 L405.68,134.28 L406.44,134.99 L407.20,135.71 L407.97,136.44 L408.74,137.17 L409.50,137.90 L410.26,138.61 L411.03,139.32 L411.80,140.02 L412.56,140.73 L413.32,141.45 L414.09,142.18 L414.86,142.94 L415.62,143.73 L416.38,144.56 L417.15,145.40 L417.92,146.25 L418.68,147.08 L419.44,147.89 L420.21,148.67 L420.98,149.45 L421.74,150.21 L422.50,150.96 L423.27,151.70 L424.03,152.43 L424.80,153.16 L425.56,153.88 L426.33,154.59 L427.10,155.27 L427.86,155.94 L428.62,156.57 L429.39,157.19 L430.15,157.79 L430.92,158.37 L431.69,158.94 L432.45,159.48 L433.22,160.01 L433.98,160.52 L434.75,161.02 L435.51,161.52 L436.27,162.02 L437.04,162.53 L437.81,163.04 L438.57,163.54 L439.34,164.02 L440.10,164.47 L440.87,164.90 L441.63,165.33 L442.39,165.74 L443.16,166.15 L443.93,166.55 L444.69,166.94 L445.45,167.32 L446.22,167.69 L446.99,168.05 L447.75,168.40 L448.51,168.74 L449.28,169.07 L450.05,169.40 L450.81,169.71 L451.57,170.01 L452.34,170.31 L453.11,170.60 L453.87,170.88 L454.63,171.16 L455.40,171.43 L456.17,171.69 L456.93,171.95 L457.69,172.20 L458.46,172.44 L459.23,172.68 L459.99,172.91 L460.75,173.13 L461.52,173.36 L462.28,173.58 L463.05,173.79 L463.81,174.00 L464.58,174.21 L465.35,174.41 L466.11,174.60 L466.88,174.79 L467.64,174.96 L468.40,175.14 L469.17,175.30 L469.94,175.45 L470.70,175.60 L471.47,175.74 L472.23,175.88 L473.00,176.01 L473.76,176.13 L474.52,176.25 L475.29,176.37 L476.06,176.49 L476.82,176.60 L477.59,176.71 L478.35,176.82 L479.12,176.92 L479.88,177.03 L480.64,177.13 L481.41,177.24 L482.18,177.34 L482.94,177.44 L483.71,177.54 L484.47,177.64 L485.24,177.74 L486.00,177.83 L486.76,177.92 L487.53,178.01 L488.30,178.09 L489.06,178.17 L489.82,178.24 L490.59,178.31 L491.36,178.38 L492.12,178.44 L492.88,178.51 L493.65,178.57 L494.41,178.63 L495.18,178.69 L495.94,178.75 L496.71,178.80 L497.48,178.86 L498.24,178.91 L499.00,178.96 L499.77,179.00 L500.53,179.05 L501.30,179.09 L502.06,179.13 L502.83,179.17 L503.60,179.21 L504.36,179.24 L505.12,179.28 L505.89,179.32 L506.65,179.35 L507.42,179.38 L508.19,179.42 L508.95,179.45 L509.72,179.47 L510.48,179.50 L511.25,179.53 L512.01,179.55 L512.77,179.57 L513.54,179.59 L514.31,179.62 L515.07,179.64 L515.84,179.66 L516.60,179.67 L517.37,179.69 L518.13,179.71 L518.89,179.73 L519.66,179.74 L520.42,179.76 L521.19,179.77 L521.96,179.78 L522.72,179.80 L523.49,179.81 L524.25,179.82" fill="none" stroke="#e8a520" stroke-width="1.3"/>
<path d="M333.00,174.24 L333.76,174.16 L334.53,174.05 L335.30,173.91 L336.06,173.74 L336.82,173.57 L337.59,173.37 L338.36,173.14 L339.12,172.87 L339.88,172.57 L340.65,172.24 L341.42,171.88 L342.18,171.46 L342.94,171.00 L343.71,170.49 L344.48,169.93 L345.24,169.33 L346.00,168.67 L346.77,167.94 L347.54,167.13 L348.30,166.24 L349.06,165.24 L349.83,164.08 L350.60,162.80 L351.36,161.40 L352.12,159.79 L352.89,157.94 L353.65,155.97 L354.42,154.00 L355.19,152.13 L355.95,150.37 L356.71,148.64 L357.48,146.93 L358.25,145.24 L359.01,143.57 L359.77,141.92 L360.54,140.29 L361.31,138.65 L362.07,137.02 L362.83,135.42 L363.60,133.88 L364.37,132.42 L365.13,131.03 L365.89,129.67 L366.66,128.38 L367.43,127.21 L368.19,126.19 L368.95,125.26 L369.72,124.40 L370.49,123.61 L371.25,122.93 L372.01,122.38 L372.78,121.92 L373.55,121.51 L374.31,121.15 L375.07,120.85 L375.84,120.61 L376.61,120.41 L377.37,120.23 L378.13,120.08 L378.90,119.95 L379.67,119.86 L380.43,119.81 L381.19,119.76 L381.96,119.73 L382.73,119.72 L383.49,119.76 L384.25,119.88 L385.02,120.04 L385.79,120.20 L386.55,120.37 L387.31,120.58 L388.08,120.84 L388.85,121.17 L389.61,121.59 L390.38,122.07 L391.14,122.57 L391.90,123.06 L392.67,123.55 L393.44,124.04 L394.20,124.56 L394.97,125.10 L395.73,125.66 L396.50,126.26 L397.26,126.92 L398.02,127.61 L398.79,128.31 L399.56,129.01 L400.32,129.68 L401.09,130.33 L401.85,130.97 L402.62,131.61 L403.38,132.26 L404.14,132.92 L404.91,133.59 L405.68,134.28 L406.44,134.99 L407.20,135.71 L407.97,136.44 L408.74,137.17 L409.50,137.90 L410.26,138.61 L411.03,139.32 L411.80,140.02 L412.56,140.73 L413.32,141.45 L414.09,142.18 L414.86,142.94 L415.62,143.73 L416.38,144.56 L417.15,145.40 L417.92,146.25 L418.68,147.08 L419.44,147.89 L420.21,148.67 L420.98,149.45 L421.74,150.21 L422.50,150.96 L423.27,151.70 L424.03,152.43 L424.80,153.16 L425.56,153.88 L426.33,154.59 L427.10,155.27 L427.86,155.94 L428.62,156.57 L429.39,157.19 L430.15,157.79 L430.92,158.37 L431.69,158.94 L432.45,159.48 L433.22,160.01 L433.98,160.52 L434.75,161.02 L435.51,161.52 L436.27,162.02 L437.04,162.53 L437.81,163.04 L438.57,163.54 L439.34,164.02 L440.10,164.47 L440.87,164.90 L441.63,165.33 L442.39,165.74 L443.16,166.15 L443.93,166.55 L444.69,166.94 L445.45,167.32 L446.22,167.69 L446.99,168.05 L447.75,168.40 L448.51,168.74 L449.28,169.07 L450.05,169.40 L450.81,169.71 L451.57,170.01 L452.34,170.31 L453.11,170.60 L453.87,170.88 L454.63,171.16 L455.40,171.43 L456.17,171.69 L456.93,171.95 L457.69,172.20 L458.46,172.44 L459.23,172.68 L459.99,172.91 L460.75,173.13 L461.52,173.36 L462.28,173.58 L463.05,173.79 L463.81,174.00 L464.58,174.21 L465.35,174.41 L466.11,174.60 L466.88,174.79 L467.64,174.96 L468.40,175.14 L469.17,175.30 L469.94,175.45 L470.70,175.60 L471.47,175.74 L472.23,175.88 L473.00,176.01 L473.76,176.13 L474.52,176.25 L475.29,176.37 L476.06,176.49 L476.82,176.60 L477.59,176.71 L478.35,176.82 L479.12,176.92 L479.88,177.03 L480.64,177.13 L481.41,177.24 L482.18,177.34 L482.94,177.44 L483.71,177.54 L484.47,177.64 L485.24,177.74 L486.00,177.83 L486.76,177.92 L487.53,178.01 L488.30,178.09 L489.06,178.17 L489.82,178.24 L490.59,178.31 L491.36,178.38 L492.12,178.44 L492.88,178.51 L493.65,178.57 L494.41,178.63 L495.18,178.69 L495.94,178.75 L496.71,178.80 L497.48,178.86 L498.24,178.91 L499.00,178.96 L499.77,179.00 L500.53,179.05 L501.30,179.09 L502.06,179.13 L502.83,179.17 L503.60,179.21 L504.36,179.24 L505.12,179.28 L505.89,179.32 L506.65,179.35 L507.42,179.38 L508.19,179.42 L508.95,179.45 L509.72,179.47 L510.48,179.50 L511.25,179.53 L512.01,179.55 L512.77,179.57 L513.54,179.59 L514.31,179.62 L515.07,179.64 L515.84,179.66 L516.60,179.67 L517.37,179.69 L518.13,179.71 L518.89,179.73 L519.66,179.74 L520.42,179.76 L521.19,179.77 L521.96,179.78 L522.72,179.80 L523.49,179.81 L524.25,179.82" fill="none" stroke="#3a90d8" stroke-width="1.3"/>
<path d="M333.00,174.24 L333.76,174.16 L334.53,174.04 L335.30,173.90 L336.06,173.74 L336.82,173.56 L337.59,173.37 L338.36,173.14 L339.12,172.87 L339.88,172.56 L340.65,172.23 L341.42,171.87 L342.18,171.46 L342.94,170.99 L343.71,170.48 L344.48,169.93 L345.24,169.33 L346.00,168.66 L346.77,167.93 L347.54,167.12 L348.30,166.24 L349.06,165.23 L349.83,164.07 L350.60,162.79 L351.36,161.39 L352.12,159.77 L352.89,157.92 L353.65,155.95 L354.42,153.98 L355.19,152.11 L355.95,150.35 L356.71,148.61 L357.48,146.90 L358.25,145.22 L359.01,143.55 L359.77,141.90 L360.54,140.26 L361.31,138.63 L362.07,136.99 L362.83,135.39 L363.60,133.85 L364.37,132.38 L365.13,130.99 L365.89,129.63 L366.66,128.34 L367.43,127.17 L368.19,126.15 L368.95,125.23 L369.72,124.36 L370.49,123.57 L371.25,122.89 L372.01,122.34 L372.78,121.88 L373.55,121.47 L374.31,121.11 L375.07,120.81 L375.84,120.57 L376.61,120.37 L377.37,120.19 L378.13,120.04 L378.90,119.91 L379.67,119.82 L380.43,119.77 L381.19,119.72 L381.96,119.69 L382.73,119.68 L383.49,119.72 L384.25,119.84 L385.02,120.00 L385.79,120.16 L386.55,120.33 L387.31,120.54 L388.08,120.79 L388.85,121.13 L389.61,121.55 L390.38,122.03 L391.14,122.53 L391.90,123.02 L392.67,123.51 L393.44,124.01 L394.20,124.52 L394.97,125.06 L395.73,125.62 L396.50,126.23 L397.26,126.88 L398.02,127.57 L398.79,128.27 L399.56,128.97 L400.32,129.64 L401.09,130.29 L401.85,130.94 L402.62,131.58 L403.38,132.23 L404.14,132.88 L404.91,133.56 L405.68,134.25 L406.44,134.96 L407.20,135.68 L407.97,136.41 L408.74,137.14 L409.50,137.87 L410.26,138.58 L411.03,139.29 L411.80,140.00 L412.56,140.70 L413.32,141.42 L414.09,142.15 L414.86,142.91 L415.62,143.71 L416.38,144.53 L417.15,145.38 L417.92,146.22 L418.68,147.06 L419.44,147.87 L420.21,148.65 L420.98,149.42 L421.74,150.19 L422.50,150.94 L423.27,151.68 L424.03,152.41 L424.80,153.14 L425.56,153.86 L426.33,154.57 L427.10,155.26 L427.86,155.92 L428.62,156.56 L429.39,157.18 L430.15,157.77 L430.92,158.36 L431.69,158.92 L432.45,159.47 L433.22,160.00 L433.98,160.51 L434.75,161.01 L435.51,161.51 L436.27,162.01 L437.04,162.52 L437.81,163.03 L438.57,163.53 L439.34,164.01 L440.10,164.46 L440.87,164.89 L441.63,165.32 L442.39,165.73 L443.16,166.14 L443.93,166.54 L444.69,166.93 L445.45,167.31 L446.22,167.68 L446.99,168.04 L447.75,168.39 L448.51,168.73 L449.28,169.07 L450.05,169.39 L450.81,169.70 L451.57,170.00 L452.34,170.30 L453.11,170.59 L453.87,170.88 L454.63,171.15 L455.40,171.42 L456.17,171.69 L456.93,171.94 L457.69,172.19 L458.46,172.44 L459.23,172.67 L459.99,172.90 L460.75,173.13 L461.52,173.35 L462.28,173.57 L463.05,173.79 L463.81,174.00 L464.58,174.20 L465.35,174.40 L466.11,174.60 L466.88,174.78 L467.64,174.96 L468.40,175.13 L469.17,175.30 L469.94,175.45 L470.70,175.60 L471.47,175.74 L472.23,175.87 L473.00,176.00 L473.76,176.13 L474.52,176.25 L475.29,176.37 L476.06,176.48 L476.82,176.60 L477.59,176.71 L478.35,176.81 L479.12,176.92 L479.88,177.03 L480.64,177.13 L481.41,177.24 L482.18,177.34 L482.94,177.44 L483.71,177.54 L484.47,177.64 L485.24,177.74 L486.00,177.83 L486.76,177.92 L487.53,178.01 L488.30,178.09 L489.06,178.17 L489.82,178.24 L490.59,178.31 L491.36,178.38 L492.12,178.44 L492.88,178.51 L493.65,178.57 L494.41,178.63 L495.18,178.69 L495.94,178.75 L496.71,178.80 L497.48,178.85 L498.24,178.91 L499.00,178.95 L499.77,179.00 L500.53,179.05 L501.30,179.09 L502.06,179.13 L502.83,179.17 L503.60,179.21 L504.36,179.24 L505.12,179.28 L505.89,179.32 L506.65,179.35 L507.42,179.38 L508.19,179.41 L508.95,179.44 L509.72,179.47 L510.48,179.50 L511.25,179.53 L512.01,179.55 L512.77,179.57 L513.54,179.59 L514.31,179.61 L515.07,179.64 L515.84,179.66 L516.60,179.67 L517.37,179.69 L518.13,179.71 L518.89,179.73 L519.66,179.74 L520.42,179.76 L521.19,179.77 L521.96,179.78 L522.72,179.80 L523.49,179.81 L524.25,179.82" fill="none" stroke="#a87272" stroke-width="1.3"/>
<path d="M333.00,174.24 L333.76,174.16 L334.53,174.04 L335.30,173.90 L336.06,173.74 L336.82,173.56 L337.59,173.37 L338.36,173.14 L339.12,172.87 L339.88,172.56 L340.65,172.23 L341.42,171.87 L342.18,171.46 L342.94,170.99 L343.71,170.48 L344.48,169.93 L345.24,169.33 L346.00,168.66 L346.77,167.93 L347.54,167.12 L348.30,166.24 L349.06,165.23 L349.83,164.07 L350.60,162.79 L351.36,161.39 L352.12,159.77 L352.89,157.92 L353.65,155.95 L354.42,153.98 L355.19,152.11 L355.95,150.35 L356.71,148.61 L357.48,146.90 L358.25,145.22 L359.01,143.55 L359.77,141.90 L360.54,140.26 L361.31,138.63 L362.07,136.99 L362.83,135.39 L363.60,133.85 L364.37,132.38 L365.13,130.99 L365.89,129.63 L366.66,128.34 L367.43,127.17 L368.19,126.15 L368.95,125.23 L369.72,124.36 L370.49,123.57 L371.25,122.89 L372.01,122.34 L372.78,121.88 L373.55,121.47 L374.31,121.11 L375.07,120.81 L375.84,120.57 L376.61,120.37 L377.37,120.19 L378.13,120.04 L378.90,119.91 L379.67,119.82 L380.43,119.77 L381.19,119.72 L381.96,119.69 L382.73,119.68 L383.49,119.72 L384.25,119.84 L385.02,120.00 L385.79,120.16 L386.55,120.33 L387.31,120.54 L388.08,120.79 L388.85,121.13 L389.61,121.55 L390.38,122.03 L391.14,122.53 L391.90,123.02 L392.67,123.51 L393.44,124.01 L394.20,124.52 L394.97,125.06 L395.73,125.62 L396.50,126.23 L397.26,126.88 L398.02,127.57 L398.79,128.27 L399.56,128.97 L400.32,129.64 L401.09,130.29 L401.85,130.94 L402.62,131.58 L403.38,132.23 L404.14,132.88 L404.91,133.56 L405.68,134.25 L406.44,134.96 L407.20,135.68 L407.97,136.41 L408.74,137.14 L409.50,137.87 L410.26,138.58 L411.03,139.29 L411.80,140.00 L412.56,140.70 L413.32,141.42 L414.09,142.15 L414.86,142.91 L415.62,143.71 L416.38,144.53 L417.15,145.38 L417.92,146.22 L418.68,147.06 L419.44,147.87 L420.21,148.65 L420.98,149.42 L421.74,150.19 L422.50,150.94 L423.27,151.68 L424.03,152.41 L424.80,153.14 L425.56,153.86 L426.33,154.57 L427.10,155.26 L427.86,155.92 L428.62,156.56 L429.39,157.18 L430.15,157.77 L430.92,158.36 L431.69,158.92 L432.45,159.47 L433.22,160.00 L433.98,160.51 L434.75,161.01 L435.51,161.51 L436.27,162.01 L437.04,162.52 L437.81,163.03 L438.57,163.53 L439.34,164.01 L440.10,164.46 L440.87,164.89 L441.63,165.32 L442.39,165.73 L443.16,166.14 L443.93,166.54 L444.69,166.93 L445.45,167.31 L446.22,167.68 L446.99,168.04 L447.75,168.39 L448.51,168.73 L449.28,169.07 L450.05,169.39 L450.81,169.70 L451.57,170.00 L452.34,170.30 L453.11,170.59 L453.87,170.88 L454.63,171.15 L455.40,171.42 L456.17,171.69 L456.93,171.94 L457.69,172.19 L458.46,172.44 L459.23,172.67 L459.99,172.90 L460.75,173.13 L461.52,173.35 L462.28,173.57 L463.05,173.79 L463.81,174.00 L464.58,174.20 L465.35,174.40 L466.11,174.60 L466.88,174.78 L467.64,174.96 L468.40,175.13 L469.17,175.30 L469.94,175.45 L470.70,175.60 L471.47,175.74 L472.23,175.87 L473.00,176.00 L473.76,176.13 L474.52,176.25 L475.29,176.37 L476.06,176.48 L476.82,176.60 L477.59,176.71 L478.35,176.81 L479.12,176.92 L479.88,177.03 L480.64,177.13 L481.41,177.24 L482.18,177.34 L482.94,177.44 L483.71,177.54 L484.47,177.64 L485.24,177.74 L486.00,177.83 L486.76,177.92 L487.53,178.01 L488.30,178.09 L489.06,178.17 L489.82,178.24 L490.59,178.31 L491.36,178.38 L492.12,178.44 L492.88,178.51 L493.65,178.57 L494.41,178.63 L495.18,178.69 L495.94,178.75 L496.71,178.80 L497.48,178.85 L498.24,178.91 L499.00,178.95 L499.77,179.00 L500.53,179.05 L501.30,179.09 L502.06,179.13 L502.83,179.17 L503.60,179.21 L504.36,179.24 L505.12,179.28 L505.89,179.32 L506.65,179.35 L507.42,179.38 L508.19,179.41 L508.95,179.44 L509.72,179.47 L510.48,179.50 L511.25,179.53 L512.01,179.55 L512.77,179.57 L513.54,179.59 L514.31,179.61 L515.07,179.64 L515.84,179.66 L516.60,179.67 L517.37,179.69 L518.13,179.71 L518.89,179.73 L519.66,179.74 L520.42,179.76 L521.19,179.77 L521.96,179.78 L522.72,179.80 L523.49,179.81 L524.25,179.82" fill="none" stroke="#9aa52a" stroke-width="1.3"/>
<path d="M333.00,174.23 L333.76,174.15 L334.53,174.04 L335.30,173.90 L336.06,173.74 L336.82,173.56 L337.59,173.37 L338.36,173.14 L339.12,172.87 L339.88,172.56 L340.65,172.23 L341.42,171.87 L342.18,171.45 L342.94,170.99 L343.71,170.48 L344.48,169.92 L345.24,169.32 L346.00,168.66 L346.77,167.92 L347.54,167.12 L348.30,166.23 L349.06,165.22 L349.83,164.07 L350.60,162.78 L351.36,161.38 L352.12,159.76 L352.89,157.91 L353.65,155.94 L354.42,153.97 L355.19,152.10 L355.95,150.33 L356.71,148.60 L357.48,146.89 L358.25,145.20 L359.01,143.53 L359.77,141.88 L360.54,140.25 L361.31,138.61 L362.07,136.97 L362.83,135.37 L363.60,133.82 L364.37,132.36 L365.13,130.97 L365.89,129.61 L366.66,128.32 L367.43,127.14 L368.19,126.13 L368.95,125.20 L369.72,124.33 L370.49,123.55 L371.25,122.87 L372.01,122.32 L372.78,121.86 L373.55,121.45 L374.31,121.09 L375.07,120.78 L375.84,120.54 L376.61,120.34 L377.37,120.16 L378.13,120.01 L378.90,119.88 L379.67,119.79 L380.43,119.74 L381.19,119.69 L381.96,119.66 L382.73,119.65 L383.49,119.69 L384.25,119.81 L385.02,119.97 L385.79,120.13 L386.55,120.30 L387.31,120.51 L388.08,120.77 L388.85,121.10 L389.61,121.52 L390.38,122.00 L391.14,122.50 L391.90,123.00 L392.67,123.48 L393.44,123.98 L394.20,124.50 L394.97,125.03 L395.73,125.60 L396.50,126.20 L397.26,126.86 L398.02,127.55 L398.79,128.25 L399.56,128.95 L400.32,129.62 L401.09,130.27 L401.85,130.91 L402.62,131.56 L403.38,132.20 L404.14,132.86 L404.91,133.54 L405.68,134.23 L406.44,134.94 L407.20,135.66 L407.97,136.39 L408.74,137.12 L409.50,137.85 L410.26,138.56 L411.03,139.27 L411.80,139.98 L412.56,140.68 L413.32,141.40 L414.09,142.14 L414.86,142.89 L415.62,143.69 L416.38,144.52 L417.15,145.36 L417.92,146.21 L418.68,147.04 L419.44,147.85 L420.21,148.64 L420.98,149.41 L421.74,150.17 L422.50,150.93 L423.27,151.67 L424.03,152.40 L424.80,153.13 L425.56,153.85 L426.33,154.56 L427.10,155.25 L427.86,155.91 L428.62,156.55 L429.39,157.16 L430.15,157.76 L430.92,158.35 L431.69,158.91 L432.45,159.46 L433.22,159.99 L433.98,160.50 L434.75,161.00 L435.51,161.50 L436.27,162.00 L437.04,162.51 L437.81,163.02 L438.57,163.52 L439.34,164.00 L440.10,164.45 L440.87,164.88 L441.63,165.31 L442.39,165.72 L443.16,166.13 L443.93,166.53 L444.69,166.92 L445.45,167.30 L446.22,167.67 L446.99,168.04 L447.75,168.39 L448.51,168.73 L449.28,169.06 L450.05,169.38 L450.81,169.69 L451.57,170.00 L452.34,170.30 L453.11,170.59 L453.87,170.87 L454.63,171.15 L455.40,171.42 L456.17,171.68 L456.93,171.94 L457.69,172.19 L458.46,172.43 L459.23,172.67 L459.99,172.90 L460.75,173.13 L461.52,173.35 L462.28,173.57 L463.05,173.78 L463.81,173.99 L464.58,174.20 L465.35,174.40 L466.11,174.59 L466.88,174.78 L467.64,174.96 L468.40,175.13 L469.17,175.29 L469.94,175.45 L470.70,175.59 L471.47,175.74 L472.23,175.87 L473.00,176.00 L473.76,176.13 L474.52,176.25 L475.29,176.37 L476.06,176.48 L476.82,176.59 L477.59,176.70 L478.35,176.81 L479.12,176.92 L479.88,177.02 L480.64,177.13 L481.41,177.23 L482.18,177.34 L482.94,177.44 L483.71,177.54 L484.47,177.64 L485.24,177.74 L486.00,177.83 L486.76,177.92 L487.53,178.00 L488.30,178.09 L489.06,178.16 L489.82,178.24 L490.59,178.31 L491.36,178.38 L492.12,178.44 L492.88,178.51 L493.65,178.57 L494.41,178.63 L495.18,178.69 L495.94,178.75 L496.71,178.80 L497.48,178.85 L498.24,178.90 L499.00,178.95 L499.77,179.00 L500.53,179.04 L501.30,179.09 L502.06,179.13 L502.83,179.17 L503.60,179.21 L504.36,179.24 L505.12,179.28 L505.89,179.32 L506.65,179.35 L507.42,179.38 L508.19,179.41 L508.95,179.44 L509.72,179.47 L510.48,179.50 L511.25,179.53 L512.01,179.55 L512.77,179.57 L513.54,179.59 L514.31,179.61 L515.07,179.63 L515.84,179.65 L516.60,179.67 L517.37,179.69 L518.13,179.71 L518.89,179.73 L519.66,179.74 L520.42,179.76 L521.19,179.77 L521.96,179.78 L522.72,179.80 L523.49,179.81 L524.25,179.81" fill="none" stroke="#ff8a1a" stroke-width="1.3"/>
<path d="M333.00,11.82 L333.00,180.30 L543.38,180.30 M329.50,180.30 L333.00,180.30 M331.00,166.26 L333.00,166.26 M329.50,152.22 L333.00,152.22 M331.00,138.18 L333.00,138.18 M329.50,124.14 L333.00,124.14 M331.00,110.10 L333.00,110.10 M329.50,96.06 L333.00,96.06 M331.00,82.02 L333.00,82.02 M329.50,67.98 L333.00,67.98 M331.00,53.94 L333.00,53.94 M329.50,39.90 L333.00,39.90 M331.00,25.86 L333.00,25.86 M329.50,11.82 L333.00,11.82 M333.00,180.30 L333.00,183.80 M352.12,180.30 L352.12,182.30 M371.25,180.30 L371.25,183.80 M390.38,180.30 L390.38,182.30 M409.50,180.30 L409.50,183.80 M428.62,180.30 L428.62,182.30 M447.75,180.30 L447.75,183.80 M466.88,180.30 L466.88,182.30 M486.00,180.30 L486.00,183.80 M505.12,180.30 L505.12,182.30 M524.25,180.30 L524.25,183.80 M543.38,180.30 L543.38,182.30" fill="none" stroke="#2a2a2a" stroke-width="1.3" stroke-linecap="square"/>
<text x="326.40" y="184.30" text-anchor="end" class="t">0</text>
<text x="326.40" y="156.22" text-anchor="end" class="t">200</text>
<text x="326.40" y="128.14" text-anchor="end" class="t">400</text>
<text x="326.40" y="100.06" text-anchor="end" class="t">600</text>
<text x="326.40" y="71.98" text-anchor="end" class="t">800</text>
<text x="326.40" y="43.90" text-anchor="end" class="t">1000</text>
<text x="326.40" y="15.82" text-anchor="end" class="t">1200</text>
<text x="333.00" y="196.20" text-anchor="middle" class="t">450</text>
<text x="371.25" y="196.20" text-anchor="middle" class="t">500</text>
<text x="409.50" y="196.20" text-anchor="middle" class="t">550</text>
<text x="447.75" y="196.20" text-anchor="middle" class="t">600</text>
<text x="486.00" y="196.20" text-anchor="middle" class="t">650</text>
<text x="524.25" y="196.20" text-anchor="middle" class="t">700</text>
<text x="435.00" y="213.50" text-anchor="middle" class="b14">Wavelength (nm)</text>
<text transform="translate(297.80,105.00) rotate(-90)" text-anchor="middle" class="b14">Fluorescence intensity (a.u.)</text>
<text x="286.60" y="15.30" class="b13">(b)</text>
<rect x="473.10" y="11.30" width="70.60" height="149.00" fill="#fff" stroke="#b4b4b4" stroke-width="1"/>
<text x="474.90" y="23.20" class="l">1</text>
<path d="M480.10,20.20 L499.90,20.20" stroke="#555555" stroke-width="1.45"/>
<text x="503.10" y="23.20" class="l">0 min</text>
<text x="474.90" y="37.98" class="l">2</text>
<path d="M480.10,34.98 L499.90,34.98" stroke="#ff3b3b" stroke-width="1.45"/>
<text x="503.10" y="37.98" class="l">3 min</text>
<text x="474.90" y="52.76" class="l">3</text>
<path d="M480.10,49.76 L499.90,49.76" stroke="#2b2bff" stroke-width="1.45"/>
<text x="503.10" y="52.76" class="l">6 min</text>
<text x="474.90" y="67.54" class="l">4</text>
<path d="M480.10,64.54 L499.90,64.54" stroke="#2e9a2e" stroke-width="1.45"/>
<text x="503.10" y="67.54" class="l">9 min</text>
<text x="474.90" y="82.32" class="l">5</text>
<path d="M480.10,79.32 L499.90,79.32" stroke="#9b3cff" stroke-width="1.45"/>
<text x="503.10" y="82.32" class="l">12 min</text>
<text x="474.90" y="97.10" class="l">6</text>
<path d="M480.10,94.10 L499.90,94.10" stroke="#e8a520" stroke-width="1.45"/>
<text x="503.10" y="97.10" class="l">15 min</text>
<text x="474.90" y="111.88" class="l">7</text>
<path d="M480.10,108.88 L499.90,108.88" stroke="#3a90d8" stroke-width="1.45"/>
<text x="503.10" y="111.88" class="l">25 min</text>
<text x="474.90" y="126.66" class="l">8</text>
<path d="M480.10,123.66 L499.90,123.66" stroke="#a87272" stroke-width="1.45"/>
<text x="503.10" y="126.66" class="l">35 min</text>
<text x="474.90" y="141.44" class="l">9</text>
<path d="M480.10,138.44 L499.90,138.44" stroke="#9aa52a" stroke-width="1.45"/>
<text x="503.10" y="141.44" class="l">60 min</text>
<text x="474.90" y="156.22" class="l">10</text>
<path d="M486.40,153.22 L506.40,153.22" stroke="#ff8a1a" stroke-width="1.45"/>
<text x="509.20" y="156.22" class="l">90 min</text>
<path d="M381.70,102.40 L381.70,88.40" stroke="#111" stroke-width="1.2"/>
<path d="M381.70,84.40 L380.00,89.90 L383.40,89.90 Z" fill="#111"/>
<text x="382.10" y="115.40" text-anchor="middle" class="b12">10</text>
<text x="381.60" y="143.20" text-anchor="middle" class="b12">1</text>
<path d="M186.40,228.80 L186.40,398.10 L396.10,398.10 M182.90,398.10 L186.40,398.10 M184.40,381.17 L186.40,381.17 M182.90,364.24 L186.40,364.24 M184.40,347.31 L186.40,347.31 M182.90,330.38 L186.40,330.38 M184.40,313.45 L186.40,313.45 M182.90,296.52 L186.40,296.52 M184.40,279.59 L186.40,279.59 M182.90,262.66 L186.40,262.66 M184.40,245.73 L186.40,245.73 M182.90,228.80 L186.40,228.80 M186.40,398.10 L186.40,401.60 M196.88,398.10 L196.88,400.10 M207.37,398.10 L207.37,401.60 M217.86,398.10 L217.86,400.10 M228.34,398.10 L228.34,401.60 M238.82,398.10 L238.82,400.10 M249.31,398.10 L249.31,401.60 M259.80,398.10 L259.80,400.10 M270.28,398.10 L270.28,401.60 M280.76,398.10 L280.76,400.10 M291.25,398.10 L291.25,401.60 M301.74,398.10 L301.74,400.10 M312.22,398.10 L312.22,401.60 M322.71,398.10 L322.71,400.10 M333.19,398.10 L333.19,401.60 M343.68,398.10 L343.68,400.10 M354.16,398.10 L354.16,401.60 M364.64,398.10 L364.64,400.10 M375.13,398.10 L375.13,401.60 M385.62,398.10 L385.62,400.10 M396.10,398.10 L396.10,401.60" fill="none" stroke="#2a2a2a" stroke-width="1.3" stroke-linecap="square"/>
<text x="180.4" y="402.10" text-anchor="end" class="t">0.0</text>
<text x="180.4" y="368.24" text-anchor="end" class="t">0.2</text>
<text x="180.4" y="334.38" text-anchor="end" class="t">0.4</text>
<text x="180.4" y="300.52" text-anchor="end" class="t">0.6</text>
<text x="180.4" y="266.66" text-anchor="end" class="t">0.8</text>
<text x="180.4" y="232.80" text-anchor="end" class="t">1.0</text>
<text x="186.40" y="413.8" text-anchor="middle" class="t">0</text>
<text x="207.37" y="413.8" text-anchor="middle" class="t">10</text>
<text x="228.34" y="413.8" text-anchor="middle" class="t">20</text>
<text x="249.31" y="413.8" text-anchor="middle" class="t">30</text>
<text x="270.28" y="413.8" text-anchor="middle" class="t">40</text>
<text x="291.25" y="413.8" text-anchor="middle" class="t">50</text>
<text x="312.22" y="413.8" text-anchor="middle" class="t">60</text>
<text x="333.19" y="413.8" text-anchor="middle" class="t">70</text>
<text x="354.16" y="413.8" text-anchor="middle" class="t">80</text>
<text x="375.13" y="413.8" text-anchor="middle" class="t">90</text>
<text x="396.10" y="413.8" text-anchor="middle" class="t">100</text>
<text x="291.1" y="431.2" text-anchor="middle" class="b14">Time (min)</text>
<text x="148.6" y="232.8" class="b13">(c)</text>
<text transform="translate(160.2,312.6) rotate(-90)" text-anchor="middle" class="b14 i">(<tspan font-style="italic">F</tspan><tspan font-size="9" dy="2.5" font-style="normal">t</tspan><tspan dy="-2.5">-</tspan><tspan font-style="italic">F</tspan><tspan font-size="9" dy="2.5" font-style="normal">0</tspan><tspan dy="-2.5">)/</tspan><tspan font-style="italic">F</tspan><tspan font-size="9" dy="2.5" font-style="normal">0</tspan></text>
<path d="M186.40,398.10 L192.69,381.51 L198.98,372.87 L205.27,365.26 L211.56,357.13 L217.86,356.96 L238.82,355.61 L259.80,355.61 L312.22,355.61 L375.13,355.10" fill="none" stroke="#333" stroke-width="0.9"/>
<circle cx="192.69" cy="381.51" r="2.0" fill="#fff" stroke="#111" stroke-width="0.85"/>
<circle cx="198.98" cy="372.87" r="2.0" fill="#fff" stroke="#111" stroke-width="0.85"/>
<circle cx="205.27" cy="365.26" r="2.0" fill="#fff" stroke="#111" stroke-width="0.85"/>
<circle cx="211.56" cy="357.13" r="2.0" fill="#fff" stroke="#111" stroke-width="0.85"/>
<circle cx="217.86" cy="356.96" r="2.0" fill="#fff" stroke="#111" stroke-width="0.85"/>
<circle cx="238.82" cy="355.61" r="2.0" fill="#fff" stroke="#111" stroke-width="0.85"/>
<circle cx="259.80" cy="355.61" r="2.0" fill="#fff" stroke="#111" stroke-width="0.85"/>
<circle cx="312.22" cy="355.61" r="2.0" fill="#fff" stroke="#111" stroke-width="0.85"/>
<circle cx="375.13" cy="355.10" r="2.0" fill="#fff" stroke="#111" stroke-width="0.85"/>
<path d="M186.40,398.10 L192.69,335.80 L198.98,306.85 L205.27,286.02 L211.56,277.73 L217.86,277.39 L238.82,277.05 L259.80,277.05 L312.22,276.71 L375.13,276.37" fill="none" stroke="#333" stroke-width="0.9"/>
<circle cx="192.69" cy="335.80" r="2.5" fill="#000"/>
<circle cx="198.98" cy="306.85" r="2.5" fill="#000"/>
<circle cx="205.27" cy="286.02" r="2.5" fill="#000"/>
<circle cx="211.56" cy="277.73" r="2.5" fill="#000"/>
<circle cx="217.86" cy="277.39" r="2.5" fill="#000"/>
<circle cx="238.82" cy="277.05" r="2.5" fill="#000"/>
<circle cx="259.80" cy="277.05" r="2.5" fill="#000"/>
<circle cx="312.22" cy="276.71" r="2.5" fill="#000"/>
<circle cx="375.13" cy="276.37" r="2.5" fill="#000"/>
</svg>
</body></html>
